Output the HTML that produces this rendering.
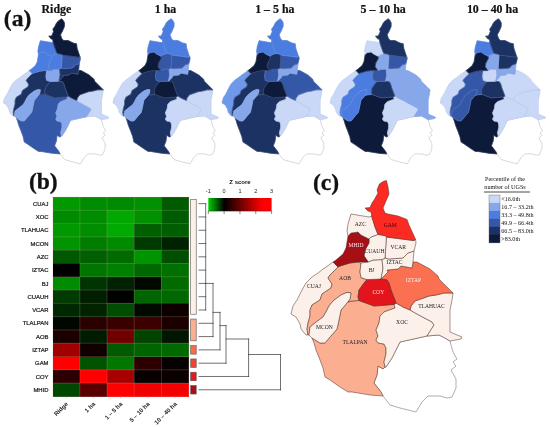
<!DOCTYPE html>
<html><head><meta charset="utf-8"><title>Figure</title>
<style>
html,body{margin:0;padding:0;background:#fff;}
body{width:550px;height:427px;overflow:hidden;position:relative;}
svg{position:absolute;left:0;top:0;display:block;}
.ser{font-family:"Liberation Serif",serif;}
.san{font-family:"Liberation Sans",sans-serif;}
</style></head><body>
<svg width="550" height="427" viewBox="0 0 550 427">
<rect width="550" height="427" fill="#fff"/>

<g transform="translate(-176.20,-92.40) scale(0.617,0.622)" stroke-linejoin="miter" stroke-miterlimit="3">
<polygon points="427.0,336.0 439.0,335.0 443.0,337.0 450.0,341.0 451.0,345.0 453.0,352.0 457.0,359.0 453.0,362.0 456.0,366.0 451.0,370.0 456.0,379.0 456.0,388.0 452.0,397.0 447.0,398.0 440.0,396.0 428.0,396.0 422.0,402.0 416.0,412.0 400.0,408.0 390.0,405.0 383.0,396.0 381.0,392.0 374.0,383.0 377.0,375.0 378.0,366.0 383.0,369.0 385.0,367.0 386.0,367.0 392.0,358.0 397.0,348.0 400.0,342.0" fill="#fff" stroke="#c4c6cf" stroke-width="1.1"/>
<polygon points="348.0,302.0 352.0,301.0 359.0,300.5 374.0,306.0 380.0,305.6 394.0,304.4 395.0,308.0 384.0,312.0 380.0,316.0 379.0,323.0 376.0,330.0 378.0,336.0 376.0,340.0 378.0,343.0 384.0,344.0 386.0,348.0 386.0,354.0 384.0,362.0 385.0,367.0 383.0,369.0 378.0,366.0 377.0,375.0 374.0,383.0 381.0,392.0 383.0,396.0 370.0,395.0 352.0,392.0 348.0,392.0 340.0,387.0 330.0,380.0 325.0,377.0 323.0,368.0 320.0,360.0 316.0,350.0 314.0,343.0 312.0,338.0 320.0,343.0 325.0,343.0 330.0,337.0 337.0,329.0 339.0,320.0 341.0,310.0 347.0,303.0" fill="#3557a8" stroke="#3557a8" stroke-width="1.2"/>
<polygon points="396.0,303.0 403.0,307.0 410.0,310.0 417.0,314.0 432.0,322.0 434.0,325.0 427.0,336.0 400.0,342.0 397.0,348.0 392.0,358.0 386.0,367.0 385.0,367.0 384.0,362.0 386.0,354.0 386.0,348.0 384.0,344.0 378.0,343.0 376.0,340.0 378.0,336.0 376.0,330.0 379.0,323.0 380.0,316.0 384.0,312.0 395.0,308.0 394.0,304.4" fill="#86a7ea" stroke="#86a7ea" stroke-width="1.2"/>
<polygon points="453.0,293.0 452.0,300.0 450.0,310.0 450.0,320.0 450.0,332.0 462.0,337.0 461.0,339.0 450.0,341.0 443.0,337.0 439.0,335.0 427.0,336.0 434.0,325.0 432.0,322.0 417.0,314.0 410.0,310.0 411.0,306.0 415.0,301.0 429.0,296.0 436.0,295.0 444.0,293.0" fill="#c9d8f6" stroke="#c9d8f6" stroke-width="1.2"/>
<polygon points="381.0,279.0 388.0,272.0 387.0,270.0 398.0,269.0 401.0,266.0 412.0,268.0 413.0,262.0 417.0,262.0 430.0,269.0 438.0,276.0 439.0,279.0 452.0,292.0 453.0,293.0 444.0,293.0 436.0,295.0 429.0,296.0 415.0,301.0 411.0,306.0 410.0,310.0 403.0,307.0 396.0,303.0 391.0,290.0 389.0,283.0 387.0,280.0" fill="#0d1a3a" stroke="#0d1a3a" stroke-width="1.2"/>
<polygon points="333.0,262.0 338.0,267.0 330.0,275.0 328.0,278.0 332.0,284.0 331.0,288.0 322.0,294.0 320.0,300.0 312.0,305.0 310.0,310.0 310.0,316.0 308.0,323.0 307.0,329.0 308.0,335.0 306.0,335.0 301.0,329.0 300.0,324.0 296.0,317.0 291.0,314.0 293.0,306.0 297.0,300.0 302.0,290.0 306.0,283.0 312.0,277.0 318.0,273.0 323.0,269.0 329.0,265.0" fill="#c9d8f6" stroke="#c9d8f6" stroke-width="1.2"/>
<polygon points="338.0,267.0 340.0,266.0 350.0,263.0 358.0,262.0 361.0,263.0 360.0,272.0 361.0,277.6 367.0,279.6 364.0,283.0 359.0,290.0 358.0,297.0 359.0,300.5 352.0,301.0 348.0,302.0 350.0,299.0 351.0,293.0 347.0,292.4 341.0,295.0 333.0,301.0 329.0,306.0 326.0,312.0 323.0,317.0 315.0,323.0 310.0,327.0 309.0,335.0 308.0,335.0 307.0,329.0 308.0,323.0 310.0,316.0 310.0,310.0 312.0,305.0 320.0,300.0 322.0,294.0 331.0,288.0 332.0,284.0 328.0,278.0 330.0,275.0" fill="#1b3263" stroke="#1b3263" stroke-width="1.2"/>
<polygon points="351.0,293.0 347.0,292.4 341.0,295.0 333.0,301.0 329.0,306.0 326.0,312.0 323.0,317.0 315.0,323.0 310.0,327.0 309.0,335.0 312.0,338.0 320.0,343.0 325.0,343.0 330.0,337.0 337.0,329.0 339.0,320.0 341.0,310.0 347.0,303.0 350.0,299.0" fill="#86a7ea" stroke="#86a7ea" stroke-width="1.2"/>
<polygon points="367.0,279.6 381.0,279.0 387.0,280.0 389.0,283.0 391.0,290.0 396.0,303.0 394.0,304.4 380.0,305.6 374.0,306.0 359.0,300.5 358.0,297.0 359.0,290.0 364.0,283.0" fill="#1b3263" stroke="#1b3263" stroke-width="1.2"/>
<polygon points="361.0,263.0 368.0,262.0 373.0,260.0 382.0,259.6 383.0,269.0 381.0,279.0 367.0,279.6 361.0,277.6 360.0,272.0" fill="#86a7ea" stroke="#86a7ea" stroke-width="1.2"/>
<polygon points="385.0,258.0 389.0,259.0 403.0,258.0 408.0,253.0 414.0,251.0 413.0,262.0 412.0,268.0 401.0,266.0 398.0,269.0 387.0,270.0 388.0,272.0 381.0,279.0 383.0,269.0 382.0,259.6" fill="#1b3263" stroke="#1b3263" stroke-width="1.2"/>
<polygon points="386.4,237.0 414.0,240.6 415.6,239.4 416.0,243.0 414.0,251.0 408.0,253.0 403.0,258.0 389.0,259.0 385.0,258.0" fill="#3557a8" stroke="#3557a8" stroke-width="1.2"/>
<polygon points="369.0,239.0 371.0,237.0 378.0,234.4 385.0,235.6 386.4,237.0 385.0,258.0 382.0,259.6 373.0,260.0 368.0,262.0 364.0,256.0 365.0,250.0 369.0,243.0" fill="#4b7de0" stroke="#4b7de0" stroke-width="1.2"/>
<polygon points="348.0,236.0 351.0,233.0 358.0,232.0 361.0,235.0 369.0,239.0 369.0,243.0 365.0,250.0 364.0,256.0 367.0,260.0 368.0,262.0 358.0,262.0 350.0,263.0 340.0,266.0 338.0,267.0 333.0,262.0 336.0,260.0 343.0,254.0 346.0,248.0 347.0,242.0" fill="#4b7de0" stroke="#4b7de0" stroke-width="1.2"/>
<polygon points="351.0,214.0 369.0,217.0 372.0,216.0 373.0,219.0 375.0,227.0 378.0,234.4 371.0,237.0 369.0,239.0 361.0,235.0 358.0,232.0 351.0,233.0 348.0,236.0 347.0,231.0 348.0,224.0" fill="#4b7de0" stroke="#4b7de0" stroke-width="1.2"/>
<polygon points="385.4,178.6 380.6,182.0 377.5,185.0 374.4,191.2 371.3,195.3 372.3,199.4 369.2,206.6 364.7,206.4 368.0,211.0 371.0,212.0 372.0,218.0 375.0,227.0 378.0,234.4 385.0,235.6 386.4,237.0 414.0,240.6 414.6,238.3 410.5,226.0 409.6,218.8 404.4,217.8 396.1,213.7 388.8,213.7 385.7,210.6 383.6,204.5 386.9,198.4 390.0,191.2 390.0,185.0 387.8,181.0" fill="#0d1a3a" stroke="#0d1a3a" stroke-width="1.2"/>
<polygon points="348.0,302.0 352.0,301.0 359.0,300.5 374.0,306.0 380.0,305.6 394.0,304.4 395.0,308.0 384.0,312.0 380.0,316.0 379.0,323.0 376.0,330.0 378.0,336.0 376.0,340.0 378.0,343.0 384.0,344.0 386.0,348.0 386.0,354.0 384.0,362.0 385.0,367.0 383.0,369.0 378.0,366.0 377.0,375.0 374.0,383.0 381.0,392.0 383.0,396.0 370.0,395.0 352.0,392.0 348.0,392.0 340.0,387.0 330.0,380.0 325.0,377.0 323.0,368.0 320.0,360.0 316.0,350.0 314.0,343.0 312.0,338.0 320.0,343.0 325.0,343.0 330.0,337.0 337.0,329.0 339.0,320.0 341.0,310.0 347.0,303.0" fill="none" stroke="#9aa8cc" stroke-opacity="0.32" stroke-width="0.7"/>
<polygon points="396.0,303.0 403.0,307.0 410.0,310.0 417.0,314.0 432.0,322.0 434.0,325.0 427.0,336.0 400.0,342.0 397.0,348.0 392.0,358.0 386.0,367.0 385.0,367.0 384.0,362.0 386.0,354.0 386.0,348.0 384.0,344.0 378.0,343.0 376.0,340.0 378.0,336.0 376.0,330.0 379.0,323.0 380.0,316.0 384.0,312.0 395.0,308.0 394.0,304.4" fill="none" stroke="#9aa8cc" stroke-opacity="0.32" stroke-width="0.7"/>
<polygon points="453.0,293.0 452.0,300.0 450.0,310.0 450.0,320.0 450.0,332.0 462.0,337.0 461.0,339.0 450.0,341.0 443.0,337.0 439.0,335.0 427.0,336.0 434.0,325.0 432.0,322.0 417.0,314.0 410.0,310.0 411.0,306.0 415.0,301.0 429.0,296.0 436.0,295.0 444.0,293.0" fill="none" stroke="#9aa8cc" stroke-opacity="0.32" stroke-width="0.7"/>
<polygon points="381.0,279.0 388.0,272.0 387.0,270.0 398.0,269.0 401.0,266.0 412.0,268.0 413.0,262.0 417.0,262.0 430.0,269.0 438.0,276.0 439.0,279.0 452.0,292.0 453.0,293.0 444.0,293.0 436.0,295.0 429.0,296.0 415.0,301.0 411.0,306.0 410.0,310.0 403.0,307.0 396.0,303.0 391.0,290.0 389.0,283.0 387.0,280.0" fill="none" stroke="#9aa8cc" stroke-opacity="0.32" stroke-width="0.7"/>
<polygon points="333.0,262.0 338.0,267.0 330.0,275.0 328.0,278.0 332.0,284.0 331.0,288.0 322.0,294.0 320.0,300.0 312.0,305.0 310.0,310.0 310.0,316.0 308.0,323.0 307.0,329.0 308.0,335.0 306.0,335.0 301.0,329.0 300.0,324.0 296.0,317.0 291.0,314.0 293.0,306.0 297.0,300.0 302.0,290.0 306.0,283.0 312.0,277.0 318.0,273.0 323.0,269.0 329.0,265.0" fill="none" stroke="#9aa8cc" stroke-opacity="0.32" stroke-width="0.7"/>
<polygon points="338.0,267.0 340.0,266.0 350.0,263.0 358.0,262.0 361.0,263.0 360.0,272.0 361.0,277.6 367.0,279.6 364.0,283.0 359.0,290.0 358.0,297.0 359.0,300.5 352.0,301.0 348.0,302.0 350.0,299.0 351.0,293.0 347.0,292.4 341.0,295.0 333.0,301.0 329.0,306.0 326.0,312.0 323.0,317.0 315.0,323.0 310.0,327.0 309.0,335.0 308.0,335.0 307.0,329.0 308.0,323.0 310.0,316.0 310.0,310.0 312.0,305.0 320.0,300.0 322.0,294.0 331.0,288.0 332.0,284.0 328.0,278.0 330.0,275.0" fill="none" stroke="#9aa8cc" stroke-opacity="0.32" stroke-width="0.7"/>
<polygon points="351.0,293.0 347.0,292.4 341.0,295.0 333.0,301.0 329.0,306.0 326.0,312.0 323.0,317.0 315.0,323.0 310.0,327.0 309.0,335.0 312.0,338.0 320.0,343.0 325.0,343.0 330.0,337.0 337.0,329.0 339.0,320.0 341.0,310.0 347.0,303.0 350.0,299.0" fill="none" stroke="#9aa8cc" stroke-opacity="0.32" stroke-width="0.7"/>
<polygon points="367.0,279.6 381.0,279.0 387.0,280.0 389.0,283.0 391.0,290.0 396.0,303.0 394.0,304.4 380.0,305.6 374.0,306.0 359.0,300.5 358.0,297.0 359.0,290.0 364.0,283.0" fill="none" stroke="#9aa8cc" stroke-opacity="0.32" stroke-width="0.7"/>
<polygon points="361.0,263.0 368.0,262.0 373.0,260.0 382.0,259.6 383.0,269.0 381.0,279.0 367.0,279.6 361.0,277.6 360.0,272.0" fill="none" stroke="#9aa8cc" stroke-opacity="0.32" stroke-width="0.7"/>
<polygon points="385.0,258.0 389.0,259.0 403.0,258.0 408.0,253.0 414.0,251.0 413.0,262.0 412.0,268.0 401.0,266.0 398.0,269.0 387.0,270.0 388.0,272.0 381.0,279.0 383.0,269.0 382.0,259.6" fill="none" stroke="#9aa8cc" stroke-opacity="0.32" stroke-width="0.7"/>
<polygon points="386.4,237.0 414.0,240.6 415.6,239.4 416.0,243.0 414.0,251.0 408.0,253.0 403.0,258.0 389.0,259.0 385.0,258.0" fill="none" stroke="#9aa8cc" stroke-opacity="0.32" stroke-width="0.7"/>
<polygon points="369.0,239.0 371.0,237.0 378.0,234.4 385.0,235.6 386.4,237.0 385.0,258.0 382.0,259.6 373.0,260.0 368.0,262.0 364.0,256.0 365.0,250.0 369.0,243.0" fill="none" stroke="#9aa8cc" stroke-opacity="0.32" stroke-width="0.7"/>
<polygon points="348.0,236.0 351.0,233.0 358.0,232.0 361.0,235.0 369.0,239.0 369.0,243.0 365.0,250.0 364.0,256.0 367.0,260.0 368.0,262.0 358.0,262.0 350.0,263.0 340.0,266.0 338.0,267.0 333.0,262.0 336.0,260.0 343.0,254.0 346.0,248.0 347.0,242.0" fill="none" stroke="#9aa8cc" stroke-opacity="0.32" stroke-width="0.7"/>
<polygon points="351.0,214.0 369.0,217.0 372.0,216.0 373.0,219.0 375.0,227.0 378.0,234.4 371.0,237.0 369.0,239.0 361.0,235.0 358.0,232.0 351.0,233.0 348.0,236.0 347.0,231.0 348.0,224.0" fill="none" stroke="#9aa8cc" stroke-opacity="0.32" stroke-width="0.7"/>
<polygon points="385.4,178.6 380.6,182.0 377.5,185.0 374.4,191.2 371.3,195.3 372.3,199.4 369.2,206.6 364.7,206.4 368.0,211.0 371.0,212.0 372.0,218.0 375.0,227.0 378.0,234.4 385.0,235.6 386.4,237.0 414.0,240.6 414.6,238.3 410.5,226.0 409.6,218.8 404.4,217.8 396.1,213.7 388.8,213.7 385.7,210.6 383.6,204.5 386.9,198.4 390.0,191.2 390.0,185.0 387.8,181.0" fill="none" stroke="#9aa8cc" stroke-opacity="0.32" stroke-width="0.7"/>
</g>
<text class="ser" x="56.4" y="12.5" font-size="11.9" font-weight="bold" text-anchor="middle" fill="#111" stroke="#111" stroke-width="0.2">Ridge</text>
<g transform="translate(-66.60,-92.40) scale(0.617,0.622)" stroke-linejoin="miter" stroke-miterlimit="3">
<polygon points="427.0,336.0 439.0,335.0 443.0,337.0 450.0,341.0 451.0,345.0 453.0,352.0 457.0,359.0 453.0,362.0 456.0,366.0 451.0,370.0 456.0,379.0 456.0,388.0 452.0,397.0 447.0,398.0 440.0,396.0 428.0,396.0 422.0,402.0 416.0,412.0 400.0,408.0 390.0,405.0 383.0,396.0 381.0,392.0 374.0,383.0 377.0,375.0 378.0,366.0 383.0,369.0 385.0,367.0 386.0,367.0 392.0,358.0 397.0,348.0 400.0,342.0" fill="#fff" stroke="#c4c6cf" stroke-width="1.1"/>
<polygon points="348.0,302.0 352.0,301.0 359.0,300.5 374.0,306.0 380.0,305.6 394.0,304.4 395.0,308.0 384.0,312.0 380.0,316.0 379.0,323.0 376.0,330.0 378.0,336.0 376.0,340.0 378.0,343.0 384.0,344.0 386.0,348.0 386.0,354.0 384.0,362.0 385.0,367.0 383.0,369.0 378.0,366.0 377.0,375.0 374.0,383.0 381.0,392.0 383.0,396.0 370.0,395.0 352.0,392.0 348.0,392.0 340.0,387.0 330.0,380.0 325.0,377.0 323.0,368.0 320.0,360.0 316.0,350.0 314.0,343.0 312.0,338.0 320.0,343.0 325.0,343.0 330.0,337.0 337.0,329.0 339.0,320.0 341.0,310.0 347.0,303.0" fill="#1b3263" stroke="#1b3263" stroke-width="1.2"/>
<polygon points="396.0,303.0 403.0,307.0 410.0,310.0 417.0,314.0 432.0,322.0 434.0,325.0 427.0,336.0 400.0,342.0 397.0,348.0 392.0,358.0 386.0,367.0 385.0,367.0 384.0,362.0 386.0,354.0 386.0,348.0 384.0,344.0 378.0,343.0 376.0,340.0 378.0,336.0 376.0,330.0 379.0,323.0 380.0,316.0 384.0,312.0 395.0,308.0 394.0,304.4" fill="#c9d8f6" stroke="#c9d8f6" stroke-width="1.2"/>
<polygon points="453.0,293.0 452.0,300.0 450.0,310.0 450.0,320.0 450.0,332.0 462.0,337.0 461.0,339.0 450.0,341.0 443.0,337.0 439.0,335.0 427.0,336.0 434.0,325.0 432.0,322.0 417.0,314.0 410.0,310.0 411.0,306.0 415.0,301.0 429.0,296.0 436.0,295.0 444.0,293.0" fill="#c9d8f6" stroke="#c9d8f6" stroke-width="1.2"/>
<polygon points="381.0,279.0 388.0,272.0 387.0,270.0 398.0,269.0 401.0,266.0 412.0,268.0 413.0,262.0 417.0,262.0 430.0,269.0 438.0,276.0 439.0,279.0 452.0,292.0 453.0,293.0 444.0,293.0 436.0,295.0 429.0,296.0 415.0,301.0 411.0,306.0 410.0,310.0 403.0,307.0 396.0,303.0 391.0,290.0 389.0,283.0 387.0,280.0" fill="#1b3263" stroke="#1b3263" stroke-width="1.2"/>
<polygon points="333.0,262.0 338.0,267.0 330.0,275.0 328.0,278.0 332.0,284.0 331.0,288.0 322.0,294.0 320.0,300.0 312.0,305.0 310.0,310.0 310.0,316.0 308.0,323.0 307.0,329.0 308.0,335.0 306.0,335.0 301.0,329.0 300.0,324.0 296.0,317.0 291.0,314.0 293.0,306.0 297.0,300.0 302.0,290.0 306.0,283.0 312.0,277.0 318.0,273.0 323.0,269.0 329.0,265.0" fill="#c9d8f6" stroke="#c9d8f6" stroke-width="1.2"/>
<polygon points="338.0,267.0 340.0,266.0 350.0,263.0 358.0,262.0 361.0,263.0 360.0,272.0 361.0,277.6 367.0,279.6 364.0,283.0 359.0,290.0 358.0,297.0 359.0,300.5 352.0,301.0 348.0,302.0 350.0,299.0 351.0,293.0 347.0,292.4 341.0,295.0 333.0,301.0 329.0,306.0 326.0,312.0 323.0,317.0 315.0,323.0 310.0,327.0 309.0,335.0 308.0,335.0 307.0,329.0 308.0,323.0 310.0,316.0 310.0,310.0 312.0,305.0 320.0,300.0 322.0,294.0 331.0,288.0 332.0,284.0 328.0,278.0 330.0,275.0" fill="#1b3263" stroke="#1b3263" stroke-width="1.2"/>
<polygon points="351.0,293.0 347.0,292.4 341.0,295.0 333.0,301.0 329.0,306.0 326.0,312.0 323.0,317.0 315.0,323.0 310.0,327.0 309.0,335.0 312.0,338.0 320.0,343.0 325.0,343.0 330.0,337.0 337.0,329.0 339.0,320.0 341.0,310.0 347.0,303.0 350.0,299.0" fill="#86a7ea" stroke="#86a7ea" stroke-width="1.2"/>
<polygon points="367.0,279.6 381.0,279.0 387.0,280.0 389.0,283.0 391.0,290.0 396.0,303.0 394.0,304.4 380.0,305.6 374.0,306.0 359.0,300.5 358.0,297.0 359.0,290.0 364.0,283.0" fill="#0d1a3a" stroke="#0d1a3a" stroke-width="1.2"/>
<polygon points="361.0,263.0 368.0,262.0 373.0,260.0 382.0,259.6 383.0,269.0 381.0,279.0 367.0,279.6 361.0,277.6 360.0,272.0" fill="#3557a8" stroke="#3557a8" stroke-width="1.2"/>
<polygon points="385.0,258.0 389.0,259.0 403.0,258.0 408.0,253.0 414.0,251.0 413.0,262.0 412.0,268.0 401.0,266.0 398.0,269.0 387.0,270.0 388.0,272.0 381.0,279.0 383.0,269.0 382.0,259.6" fill="#86a7ea" stroke="#86a7ea" stroke-width="1.2"/>
<polygon points="386.4,237.0 414.0,240.6 415.6,239.4 416.0,243.0 414.0,251.0 408.0,253.0 403.0,258.0 389.0,259.0 385.0,258.0" fill="#3557a8" stroke="#3557a8" stroke-width="1.2"/>
<polygon points="369.0,239.0 371.0,237.0 378.0,234.4 385.0,235.6 386.4,237.0 385.0,258.0 382.0,259.6 373.0,260.0 368.0,262.0 364.0,256.0 365.0,250.0 369.0,243.0" fill="#3557a8" stroke="#3557a8" stroke-width="1.2"/>
<polygon points="348.0,236.0 351.0,233.0 358.0,232.0 361.0,235.0 369.0,239.0 369.0,243.0 365.0,250.0 364.0,256.0 367.0,260.0 368.0,262.0 358.0,262.0 350.0,263.0 340.0,266.0 338.0,267.0 333.0,262.0 336.0,260.0 343.0,254.0 346.0,248.0 347.0,242.0" fill="#0d1a3a" stroke="#0d1a3a" stroke-width="1.2"/>
<polygon points="351.0,214.0 369.0,217.0 372.0,216.0 373.0,219.0 375.0,227.0 378.0,234.4 371.0,237.0 369.0,239.0 361.0,235.0 358.0,232.0 351.0,233.0 348.0,236.0 347.0,231.0 348.0,224.0" fill="#4b7de0" stroke="#4b7de0" stroke-width="1.2"/>
<polygon points="385.4,178.6 380.6,182.0 377.5,185.0 374.4,191.2 371.3,195.3 372.3,199.4 369.2,206.6 364.7,206.4 368.0,211.0 371.0,212.0 372.0,218.0 375.0,227.0 378.0,234.4 385.0,235.6 386.4,237.0 414.0,240.6 414.6,238.3 410.5,226.0 409.6,218.8 404.4,217.8 396.1,213.7 388.8,213.7 385.7,210.6 383.6,204.5 386.9,198.4 390.0,191.2 390.0,185.0 387.8,181.0" fill="#4b7de0" stroke="#4b7de0" stroke-width="1.2"/>
<polygon points="348.0,302.0 352.0,301.0 359.0,300.5 374.0,306.0 380.0,305.6 394.0,304.4 395.0,308.0 384.0,312.0 380.0,316.0 379.0,323.0 376.0,330.0 378.0,336.0 376.0,340.0 378.0,343.0 384.0,344.0 386.0,348.0 386.0,354.0 384.0,362.0 385.0,367.0 383.0,369.0 378.0,366.0 377.0,375.0 374.0,383.0 381.0,392.0 383.0,396.0 370.0,395.0 352.0,392.0 348.0,392.0 340.0,387.0 330.0,380.0 325.0,377.0 323.0,368.0 320.0,360.0 316.0,350.0 314.0,343.0 312.0,338.0 320.0,343.0 325.0,343.0 330.0,337.0 337.0,329.0 339.0,320.0 341.0,310.0 347.0,303.0" fill="none" stroke="#9aa8cc" stroke-opacity="0.32" stroke-width="0.7"/>
<polygon points="396.0,303.0 403.0,307.0 410.0,310.0 417.0,314.0 432.0,322.0 434.0,325.0 427.0,336.0 400.0,342.0 397.0,348.0 392.0,358.0 386.0,367.0 385.0,367.0 384.0,362.0 386.0,354.0 386.0,348.0 384.0,344.0 378.0,343.0 376.0,340.0 378.0,336.0 376.0,330.0 379.0,323.0 380.0,316.0 384.0,312.0 395.0,308.0 394.0,304.4" fill="none" stroke="#9aa8cc" stroke-opacity="0.32" stroke-width="0.7"/>
<polygon points="453.0,293.0 452.0,300.0 450.0,310.0 450.0,320.0 450.0,332.0 462.0,337.0 461.0,339.0 450.0,341.0 443.0,337.0 439.0,335.0 427.0,336.0 434.0,325.0 432.0,322.0 417.0,314.0 410.0,310.0 411.0,306.0 415.0,301.0 429.0,296.0 436.0,295.0 444.0,293.0" fill="none" stroke="#9aa8cc" stroke-opacity="0.32" stroke-width="0.7"/>
<polygon points="381.0,279.0 388.0,272.0 387.0,270.0 398.0,269.0 401.0,266.0 412.0,268.0 413.0,262.0 417.0,262.0 430.0,269.0 438.0,276.0 439.0,279.0 452.0,292.0 453.0,293.0 444.0,293.0 436.0,295.0 429.0,296.0 415.0,301.0 411.0,306.0 410.0,310.0 403.0,307.0 396.0,303.0 391.0,290.0 389.0,283.0 387.0,280.0" fill="none" stroke="#9aa8cc" stroke-opacity="0.32" stroke-width="0.7"/>
<polygon points="333.0,262.0 338.0,267.0 330.0,275.0 328.0,278.0 332.0,284.0 331.0,288.0 322.0,294.0 320.0,300.0 312.0,305.0 310.0,310.0 310.0,316.0 308.0,323.0 307.0,329.0 308.0,335.0 306.0,335.0 301.0,329.0 300.0,324.0 296.0,317.0 291.0,314.0 293.0,306.0 297.0,300.0 302.0,290.0 306.0,283.0 312.0,277.0 318.0,273.0 323.0,269.0 329.0,265.0" fill="none" stroke="#9aa8cc" stroke-opacity="0.32" stroke-width="0.7"/>
<polygon points="338.0,267.0 340.0,266.0 350.0,263.0 358.0,262.0 361.0,263.0 360.0,272.0 361.0,277.6 367.0,279.6 364.0,283.0 359.0,290.0 358.0,297.0 359.0,300.5 352.0,301.0 348.0,302.0 350.0,299.0 351.0,293.0 347.0,292.4 341.0,295.0 333.0,301.0 329.0,306.0 326.0,312.0 323.0,317.0 315.0,323.0 310.0,327.0 309.0,335.0 308.0,335.0 307.0,329.0 308.0,323.0 310.0,316.0 310.0,310.0 312.0,305.0 320.0,300.0 322.0,294.0 331.0,288.0 332.0,284.0 328.0,278.0 330.0,275.0" fill="none" stroke="#9aa8cc" stroke-opacity="0.32" stroke-width="0.7"/>
<polygon points="351.0,293.0 347.0,292.4 341.0,295.0 333.0,301.0 329.0,306.0 326.0,312.0 323.0,317.0 315.0,323.0 310.0,327.0 309.0,335.0 312.0,338.0 320.0,343.0 325.0,343.0 330.0,337.0 337.0,329.0 339.0,320.0 341.0,310.0 347.0,303.0 350.0,299.0" fill="none" stroke="#9aa8cc" stroke-opacity="0.32" stroke-width="0.7"/>
<polygon points="367.0,279.6 381.0,279.0 387.0,280.0 389.0,283.0 391.0,290.0 396.0,303.0 394.0,304.4 380.0,305.6 374.0,306.0 359.0,300.5 358.0,297.0 359.0,290.0 364.0,283.0" fill="none" stroke="#9aa8cc" stroke-opacity="0.32" stroke-width="0.7"/>
<polygon points="361.0,263.0 368.0,262.0 373.0,260.0 382.0,259.6 383.0,269.0 381.0,279.0 367.0,279.6 361.0,277.6 360.0,272.0" fill="none" stroke="#9aa8cc" stroke-opacity="0.32" stroke-width="0.7"/>
<polygon points="385.0,258.0 389.0,259.0 403.0,258.0 408.0,253.0 414.0,251.0 413.0,262.0 412.0,268.0 401.0,266.0 398.0,269.0 387.0,270.0 388.0,272.0 381.0,279.0 383.0,269.0 382.0,259.6" fill="none" stroke="#9aa8cc" stroke-opacity="0.32" stroke-width="0.7"/>
<polygon points="386.4,237.0 414.0,240.6 415.6,239.4 416.0,243.0 414.0,251.0 408.0,253.0 403.0,258.0 389.0,259.0 385.0,258.0" fill="none" stroke="#9aa8cc" stroke-opacity="0.32" stroke-width="0.7"/>
<polygon points="369.0,239.0 371.0,237.0 378.0,234.4 385.0,235.6 386.4,237.0 385.0,258.0 382.0,259.6 373.0,260.0 368.0,262.0 364.0,256.0 365.0,250.0 369.0,243.0" fill="none" stroke="#9aa8cc" stroke-opacity="0.32" stroke-width="0.7"/>
<polygon points="348.0,236.0 351.0,233.0 358.0,232.0 361.0,235.0 369.0,239.0 369.0,243.0 365.0,250.0 364.0,256.0 367.0,260.0 368.0,262.0 358.0,262.0 350.0,263.0 340.0,266.0 338.0,267.0 333.0,262.0 336.0,260.0 343.0,254.0 346.0,248.0 347.0,242.0" fill="none" stroke="#9aa8cc" stroke-opacity="0.32" stroke-width="0.7"/>
<polygon points="351.0,214.0 369.0,217.0 372.0,216.0 373.0,219.0 375.0,227.0 378.0,234.4 371.0,237.0 369.0,239.0 361.0,235.0 358.0,232.0 351.0,233.0 348.0,236.0 347.0,231.0 348.0,224.0" fill="none" stroke="#9aa8cc" stroke-opacity="0.32" stroke-width="0.7"/>
<polygon points="385.4,178.6 380.6,182.0 377.5,185.0 374.4,191.2 371.3,195.3 372.3,199.4 369.2,206.6 364.7,206.4 368.0,211.0 371.0,212.0 372.0,218.0 375.0,227.0 378.0,234.4 385.0,235.6 386.4,237.0 414.0,240.6 414.6,238.3 410.5,226.0 409.6,218.8 404.4,217.8 396.1,213.7 388.8,213.7 385.7,210.6 383.6,204.5 386.9,198.4 390.0,191.2 390.0,185.0 387.8,181.0" fill="none" stroke="#9aa8cc" stroke-opacity="0.32" stroke-width="0.7"/>
</g>
<text class="ser" x="165.6" y="12.5" font-size="11.9" font-weight="bold" text-anchor="middle" fill="#111" stroke="#111" stroke-width="0.2">1 ha</text>
<g transform="translate(42.50,-92.40) scale(0.617,0.622)" stroke-linejoin="miter" stroke-miterlimit="3">
<polygon points="427.0,336.0 439.0,335.0 443.0,337.0 450.0,341.0 451.0,345.0 453.0,352.0 457.0,359.0 453.0,362.0 456.0,366.0 451.0,370.0 456.0,379.0 456.0,388.0 452.0,397.0 447.0,398.0 440.0,396.0 428.0,396.0 422.0,402.0 416.0,412.0 400.0,408.0 390.0,405.0 383.0,396.0 381.0,392.0 374.0,383.0 377.0,375.0 378.0,366.0 383.0,369.0 385.0,367.0 386.0,367.0 392.0,358.0 397.0,348.0 400.0,342.0" fill="#fff" stroke="#c4c6cf" stroke-width="1.1"/>
<polygon points="348.0,302.0 352.0,301.0 359.0,300.5 374.0,306.0 380.0,305.6 394.0,304.4 395.0,308.0 384.0,312.0 380.0,316.0 379.0,323.0 376.0,330.0 378.0,336.0 376.0,340.0 378.0,343.0 384.0,344.0 386.0,348.0 386.0,354.0 384.0,362.0 385.0,367.0 383.0,369.0 378.0,366.0 377.0,375.0 374.0,383.0 381.0,392.0 383.0,396.0 370.0,395.0 352.0,392.0 348.0,392.0 340.0,387.0 330.0,380.0 325.0,377.0 323.0,368.0 320.0,360.0 316.0,350.0 314.0,343.0 312.0,338.0 320.0,343.0 325.0,343.0 330.0,337.0 337.0,329.0 339.0,320.0 341.0,310.0 347.0,303.0" fill="#1b3263" stroke="#1b3263" stroke-width="1.2"/>
<polygon points="396.0,303.0 403.0,307.0 410.0,310.0 417.0,314.0 432.0,322.0 434.0,325.0 427.0,336.0 400.0,342.0 397.0,348.0 392.0,358.0 386.0,367.0 385.0,367.0 384.0,362.0 386.0,354.0 386.0,348.0 384.0,344.0 378.0,343.0 376.0,340.0 378.0,336.0 376.0,330.0 379.0,323.0 380.0,316.0 384.0,312.0 395.0,308.0 394.0,304.4" fill="#c9d8f6" stroke="#c9d8f6" stroke-width="1.2"/>
<polygon points="453.0,293.0 452.0,300.0 450.0,310.0 450.0,320.0 450.0,332.0 462.0,337.0 461.0,339.0 450.0,341.0 443.0,337.0 439.0,335.0 427.0,336.0 434.0,325.0 432.0,322.0 417.0,314.0 410.0,310.0 411.0,306.0 415.0,301.0 429.0,296.0 436.0,295.0 444.0,293.0" fill="#c9d8f6" stroke="#c9d8f6" stroke-width="1.2"/>
<polygon points="381.0,279.0 388.0,272.0 387.0,270.0 398.0,269.0 401.0,266.0 412.0,268.0 413.0,262.0 417.0,262.0 430.0,269.0 438.0,276.0 439.0,279.0 452.0,292.0 453.0,293.0 444.0,293.0 436.0,295.0 429.0,296.0 415.0,301.0 411.0,306.0 410.0,310.0 403.0,307.0 396.0,303.0 391.0,290.0 389.0,283.0 387.0,280.0" fill="#3557a8" stroke="#3557a8" stroke-width="1.2"/>
<polygon points="333.0,262.0 338.0,267.0 330.0,275.0 328.0,278.0 332.0,284.0 331.0,288.0 322.0,294.0 320.0,300.0 312.0,305.0 310.0,310.0 310.0,316.0 308.0,323.0 307.0,329.0 308.0,335.0 306.0,335.0 301.0,329.0 300.0,324.0 296.0,317.0 291.0,314.0 293.0,306.0 297.0,300.0 302.0,290.0 306.0,283.0 312.0,277.0 318.0,273.0 323.0,269.0 329.0,265.0" fill="#6e98ea" stroke="#6e98ea" stroke-width="1.2"/>
<polygon points="338.0,267.0 340.0,266.0 350.0,263.0 358.0,262.0 361.0,263.0 360.0,272.0 361.0,277.6 367.0,279.6 364.0,283.0 359.0,290.0 358.0,297.0 359.0,300.5 352.0,301.0 348.0,302.0 350.0,299.0 351.0,293.0 347.0,292.4 341.0,295.0 333.0,301.0 329.0,306.0 326.0,312.0 323.0,317.0 315.0,323.0 310.0,327.0 309.0,335.0 308.0,335.0 307.0,329.0 308.0,323.0 310.0,316.0 310.0,310.0 312.0,305.0 320.0,300.0 322.0,294.0 331.0,288.0 332.0,284.0 328.0,278.0 330.0,275.0" fill="#1b3263" stroke="#1b3263" stroke-width="1.2"/>
<polygon points="351.0,293.0 347.0,292.4 341.0,295.0 333.0,301.0 329.0,306.0 326.0,312.0 323.0,317.0 315.0,323.0 310.0,327.0 309.0,335.0 312.0,338.0 320.0,343.0 325.0,343.0 330.0,337.0 337.0,329.0 339.0,320.0 341.0,310.0 347.0,303.0 350.0,299.0" fill="#86a7ea" stroke="#86a7ea" stroke-width="1.2"/>
<polygon points="367.0,279.6 381.0,279.0 387.0,280.0 389.0,283.0 391.0,290.0 396.0,303.0 394.0,304.4 380.0,305.6 374.0,306.0 359.0,300.5 358.0,297.0 359.0,290.0 364.0,283.0" fill="#0d1a3a" stroke="#0d1a3a" stroke-width="1.2"/>
<polygon points="361.0,263.0 368.0,262.0 373.0,260.0 382.0,259.6 383.0,269.0 381.0,279.0 367.0,279.6 361.0,277.6 360.0,272.0" fill="#3557a8" stroke="#3557a8" stroke-width="1.2"/>
<polygon points="385.0,258.0 389.0,259.0 403.0,258.0 408.0,253.0 414.0,251.0 413.0,262.0 412.0,268.0 401.0,266.0 398.0,269.0 387.0,270.0 388.0,272.0 381.0,279.0 383.0,269.0 382.0,259.6" fill="#86a7ea" stroke="#86a7ea" stroke-width="1.2"/>
<polygon points="386.4,237.0 414.0,240.6 415.6,239.4 416.0,243.0 414.0,251.0 408.0,253.0 403.0,258.0 389.0,259.0 385.0,258.0" fill="#3557a8" stroke="#3557a8" stroke-width="1.2"/>
<polygon points="369.0,239.0 371.0,237.0 378.0,234.4 385.0,235.6 386.4,237.0 385.0,258.0 382.0,259.6 373.0,260.0 368.0,262.0 364.0,256.0 365.0,250.0 369.0,243.0" fill="#1b3263" stroke="#1b3263" stroke-width="1.2"/>
<polygon points="348.0,236.0 351.0,233.0 358.0,232.0 361.0,235.0 369.0,239.0 369.0,243.0 365.0,250.0 364.0,256.0 367.0,260.0 368.0,262.0 358.0,262.0 350.0,263.0 340.0,266.0 338.0,267.0 333.0,262.0 336.0,260.0 343.0,254.0 346.0,248.0 347.0,242.0" fill="#0d1a3a" stroke="#0d1a3a" stroke-width="1.2"/>
<polygon points="351.0,214.0 369.0,217.0 372.0,216.0 373.0,219.0 375.0,227.0 378.0,234.4 371.0,237.0 369.0,239.0 361.0,235.0 358.0,232.0 351.0,233.0 348.0,236.0 347.0,231.0 348.0,224.0" fill="#4b7de0" stroke="#4b7de0" stroke-width="1.2"/>
<polygon points="385.4,178.6 380.6,182.0 377.5,185.0 374.4,191.2 371.3,195.3 372.3,199.4 369.2,206.6 364.7,206.4 368.0,211.0 371.0,212.0 372.0,218.0 375.0,227.0 378.0,234.4 385.0,235.6 386.4,237.0 414.0,240.6 414.6,238.3 410.5,226.0 409.6,218.8 404.4,217.8 396.1,213.7 388.8,213.7 385.7,210.6 383.6,204.5 386.9,198.4 390.0,191.2 390.0,185.0 387.8,181.0" fill="#4b7de0" stroke="#4b7de0" stroke-width="1.2"/>
<polygon points="348.0,302.0 352.0,301.0 359.0,300.5 374.0,306.0 380.0,305.6 394.0,304.4 395.0,308.0 384.0,312.0 380.0,316.0 379.0,323.0 376.0,330.0 378.0,336.0 376.0,340.0 378.0,343.0 384.0,344.0 386.0,348.0 386.0,354.0 384.0,362.0 385.0,367.0 383.0,369.0 378.0,366.0 377.0,375.0 374.0,383.0 381.0,392.0 383.0,396.0 370.0,395.0 352.0,392.0 348.0,392.0 340.0,387.0 330.0,380.0 325.0,377.0 323.0,368.0 320.0,360.0 316.0,350.0 314.0,343.0 312.0,338.0 320.0,343.0 325.0,343.0 330.0,337.0 337.0,329.0 339.0,320.0 341.0,310.0 347.0,303.0" fill="none" stroke="#9aa8cc" stroke-opacity="0.32" stroke-width="0.7"/>
<polygon points="396.0,303.0 403.0,307.0 410.0,310.0 417.0,314.0 432.0,322.0 434.0,325.0 427.0,336.0 400.0,342.0 397.0,348.0 392.0,358.0 386.0,367.0 385.0,367.0 384.0,362.0 386.0,354.0 386.0,348.0 384.0,344.0 378.0,343.0 376.0,340.0 378.0,336.0 376.0,330.0 379.0,323.0 380.0,316.0 384.0,312.0 395.0,308.0 394.0,304.4" fill="none" stroke="#9aa8cc" stroke-opacity="0.32" stroke-width="0.7"/>
<polygon points="453.0,293.0 452.0,300.0 450.0,310.0 450.0,320.0 450.0,332.0 462.0,337.0 461.0,339.0 450.0,341.0 443.0,337.0 439.0,335.0 427.0,336.0 434.0,325.0 432.0,322.0 417.0,314.0 410.0,310.0 411.0,306.0 415.0,301.0 429.0,296.0 436.0,295.0 444.0,293.0" fill="none" stroke="#9aa8cc" stroke-opacity="0.32" stroke-width="0.7"/>
<polygon points="381.0,279.0 388.0,272.0 387.0,270.0 398.0,269.0 401.0,266.0 412.0,268.0 413.0,262.0 417.0,262.0 430.0,269.0 438.0,276.0 439.0,279.0 452.0,292.0 453.0,293.0 444.0,293.0 436.0,295.0 429.0,296.0 415.0,301.0 411.0,306.0 410.0,310.0 403.0,307.0 396.0,303.0 391.0,290.0 389.0,283.0 387.0,280.0" fill="none" stroke="#9aa8cc" stroke-opacity="0.32" stroke-width="0.7"/>
<polygon points="333.0,262.0 338.0,267.0 330.0,275.0 328.0,278.0 332.0,284.0 331.0,288.0 322.0,294.0 320.0,300.0 312.0,305.0 310.0,310.0 310.0,316.0 308.0,323.0 307.0,329.0 308.0,335.0 306.0,335.0 301.0,329.0 300.0,324.0 296.0,317.0 291.0,314.0 293.0,306.0 297.0,300.0 302.0,290.0 306.0,283.0 312.0,277.0 318.0,273.0 323.0,269.0 329.0,265.0" fill="none" stroke="#9aa8cc" stroke-opacity="0.32" stroke-width="0.7"/>
<polygon points="338.0,267.0 340.0,266.0 350.0,263.0 358.0,262.0 361.0,263.0 360.0,272.0 361.0,277.6 367.0,279.6 364.0,283.0 359.0,290.0 358.0,297.0 359.0,300.5 352.0,301.0 348.0,302.0 350.0,299.0 351.0,293.0 347.0,292.4 341.0,295.0 333.0,301.0 329.0,306.0 326.0,312.0 323.0,317.0 315.0,323.0 310.0,327.0 309.0,335.0 308.0,335.0 307.0,329.0 308.0,323.0 310.0,316.0 310.0,310.0 312.0,305.0 320.0,300.0 322.0,294.0 331.0,288.0 332.0,284.0 328.0,278.0 330.0,275.0" fill="none" stroke="#9aa8cc" stroke-opacity="0.32" stroke-width="0.7"/>
<polygon points="351.0,293.0 347.0,292.4 341.0,295.0 333.0,301.0 329.0,306.0 326.0,312.0 323.0,317.0 315.0,323.0 310.0,327.0 309.0,335.0 312.0,338.0 320.0,343.0 325.0,343.0 330.0,337.0 337.0,329.0 339.0,320.0 341.0,310.0 347.0,303.0 350.0,299.0" fill="none" stroke="#9aa8cc" stroke-opacity="0.32" stroke-width="0.7"/>
<polygon points="367.0,279.6 381.0,279.0 387.0,280.0 389.0,283.0 391.0,290.0 396.0,303.0 394.0,304.4 380.0,305.6 374.0,306.0 359.0,300.5 358.0,297.0 359.0,290.0 364.0,283.0" fill="none" stroke="#9aa8cc" stroke-opacity="0.32" stroke-width="0.7"/>
<polygon points="361.0,263.0 368.0,262.0 373.0,260.0 382.0,259.6 383.0,269.0 381.0,279.0 367.0,279.6 361.0,277.6 360.0,272.0" fill="none" stroke="#9aa8cc" stroke-opacity="0.32" stroke-width="0.7"/>
<polygon points="385.0,258.0 389.0,259.0 403.0,258.0 408.0,253.0 414.0,251.0 413.0,262.0 412.0,268.0 401.0,266.0 398.0,269.0 387.0,270.0 388.0,272.0 381.0,279.0 383.0,269.0 382.0,259.6" fill="none" stroke="#9aa8cc" stroke-opacity="0.32" stroke-width="0.7"/>
<polygon points="386.4,237.0 414.0,240.6 415.6,239.4 416.0,243.0 414.0,251.0 408.0,253.0 403.0,258.0 389.0,259.0 385.0,258.0" fill="none" stroke="#9aa8cc" stroke-opacity="0.32" stroke-width="0.7"/>
<polygon points="369.0,239.0 371.0,237.0 378.0,234.4 385.0,235.6 386.4,237.0 385.0,258.0 382.0,259.6 373.0,260.0 368.0,262.0 364.0,256.0 365.0,250.0 369.0,243.0" fill="none" stroke="#9aa8cc" stroke-opacity="0.32" stroke-width="0.7"/>
<polygon points="348.0,236.0 351.0,233.0 358.0,232.0 361.0,235.0 369.0,239.0 369.0,243.0 365.0,250.0 364.0,256.0 367.0,260.0 368.0,262.0 358.0,262.0 350.0,263.0 340.0,266.0 338.0,267.0 333.0,262.0 336.0,260.0 343.0,254.0 346.0,248.0 347.0,242.0" fill="none" stroke="#9aa8cc" stroke-opacity="0.32" stroke-width="0.7"/>
<polygon points="351.0,214.0 369.0,217.0 372.0,216.0 373.0,219.0 375.0,227.0 378.0,234.4 371.0,237.0 369.0,239.0 361.0,235.0 358.0,232.0 351.0,233.0 348.0,236.0 347.0,231.0 348.0,224.0" fill="none" stroke="#9aa8cc" stroke-opacity="0.32" stroke-width="0.7"/>
<polygon points="385.4,178.6 380.6,182.0 377.5,185.0 374.4,191.2 371.3,195.3 372.3,199.4 369.2,206.6 364.7,206.4 368.0,211.0 371.0,212.0 372.0,218.0 375.0,227.0 378.0,234.4 385.0,235.6 386.4,237.0 414.0,240.6 414.6,238.3 410.5,226.0 409.6,218.8 404.4,217.8 396.1,213.7 388.8,213.7 385.7,210.6 383.6,204.5 386.9,198.4 390.0,191.2 390.0,185.0 387.8,181.0" fill="none" stroke="#9aa8cc" stroke-opacity="0.32" stroke-width="0.7"/>
</g>
<text class="ser" x="274.8" y="12.5" font-size="11.9" font-weight="bold" text-anchor="middle" fill="#111" stroke="#111" stroke-width="0.2">1 – 5 ha</text>
<g transform="translate(150.50,-92.40) scale(0.617,0.622)" stroke-linejoin="miter" stroke-miterlimit="3">
<polygon points="427.0,336.0 439.0,335.0 443.0,337.0 450.0,341.0 451.0,345.0 453.0,352.0 457.0,359.0 453.0,362.0 456.0,366.0 451.0,370.0 456.0,379.0 456.0,388.0 452.0,397.0 447.0,398.0 440.0,396.0 428.0,396.0 422.0,402.0 416.0,412.0 400.0,408.0 390.0,405.0 383.0,396.0 381.0,392.0 374.0,383.0 377.0,375.0 378.0,366.0 383.0,369.0 385.0,367.0 386.0,367.0 392.0,358.0 397.0,348.0 400.0,342.0" fill="#fff" stroke="#c4c6cf" stroke-width="1.1"/>
<polygon points="348.0,302.0 352.0,301.0 359.0,300.5 374.0,306.0 380.0,305.6 394.0,304.4 395.0,308.0 384.0,312.0 380.0,316.0 379.0,323.0 376.0,330.0 378.0,336.0 376.0,340.0 378.0,343.0 384.0,344.0 386.0,348.0 386.0,354.0 384.0,362.0 385.0,367.0 383.0,369.0 378.0,366.0 377.0,375.0 374.0,383.0 381.0,392.0 383.0,396.0 370.0,395.0 352.0,392.0 348.0,392.0 340.0,387.0 330.0,380.0 325.0,377.0 323.0,368.0 320.0,360.0 316.0,350.0 314.0,343.0 312.0,338.0 320.0,343.0 325.0,343.0 330.0,337.0 337.0,329.0 339.0,320.0 341.0,310.0 347.0,303.0" fill="#0d1a3a" stroke="#0d1a3a" stroke-width="1.2"/>
<polygon points="396.0,303.0 403.0,307.0 410.0,310.0 417.0,314.0 432.0,322.0 434.0,325.0 427.0,336.0 400.0,342.0 397.0,348.0 392.0,358.0 386.0,367.0 385.0,367.0 384.0,362.0 386.0,354.0 386.0,348.0 384.0,344.0 378.0,343.0 376.0,340.0 378.0,336.0 376.0,330.0 379.0,323.0 380.0,316.0 384.0,312.0 395.0,308.0 394.0,304.4" fill="#c9d8f6" stroke="#c9d8f6" stroke-width="1.2"/>
<polygon points="453.0,293.0 452.0,300.0 450.0,310.0 450.0,320.0 450.0,332.0 462.0,337.0 461.0,339.0 450.0,341.0 443.0,337.0 439.0,335.0 427.0,336.0 434.0,325.0 432.0,322.0 417.0,314.0 410.0,310.0 411.0,306.0 415.0,301.0 429.0,296.0 436.0,295.0 444.0,293.0" fill="#86a7ea" stroke="#86a7ea" stroke-width="1.2"/>
<polygon points="381.0,279.0 388.0,272.0 387.0,270.0 398.0,269.0 401.0,266.0 412.0,268.0 413.0,262.0 417.0,262.0 430.0,269.0 438.0,276.0 439.0,279.0 452.0,292.0 453.0,293.0 444.0,293.0 436.0,295.0 429.0,296.0 415.0,301.0 411.0,306.0 410.0,310.0 403.0,307.0 396.0,303.0 391.0,290.0 389.0,283.0 387.0,280.0" fill="#86a7ea" stroke="#86a7ea" stroke-width="1.2"/>
<polygon points="333.0,262.0 338.0,267.0 330.0,275.0 328.0,278.0 332.0,284.0 331.0,288.0 322.0,294.0 320.0,300.0 312.0,305.0 310.0,310.0 310.0,316.0 308.0,323.0 307.0,329.0 308.0,335.0 306.0,335.0 301.0,329.0 300.0,324.0 296.0,317.0 291.0,314.0 293.0,306.0 297.0,300.0 302.0,290.0 306.0,283.0 312.0,277.0 318.0,273.0 323.0,269.0 329.0,265.0" fill="#c9d8f6" stroke="#c9d8f6" stroke-width="1.2"/>
<polygon points="338.0,267.0 340.0,266.0 350.0,263.0 358.0,262.0 361.0,263.0 360.0,272.0 361.0,277.6 367.0,279.6 364.0,283.0 359.0,290.0 358.0,297.0 359.0,300.5 352.0,301.0 348.0,302.0 350.0,299.0 351.0,293.0 347.0,292.4 341.0,295.0 333.0,301.0 329.0,306.0 326.0,312.0 323.0,317.0 315.0,323.0 310.0,327.0 309.0,335.0 308.0,335.0 307.0,329.0 308.0,323.0 310.0,316.0 310.0,310.0 312.0,305.0 320.0,300.0 322.0,294.0 331.0,288.0 332.0,284.0 328.0,278.0 330.0,275.0" fill="#4b7de0" stroke="#4b7de0" stroke-width="1.2"/>
<polygon points="351.0,293.0 347.0,292.4 341.0,295.0 333.0,301.0 329.0,306.0 326.0,312.0 323.0,317.0 315.0,323.0 310.0,327.0 309.0,335.0 312.0,338.0 320.0,343.0 325.0,343.0 330.0,337.0 337.0,329.0 339.0,320.0 341.0,310.0 347.0,303.0 350.0,299.0" fill="#4b7de0" stroke="#4b7de0" stroke-width="1.2"/>
<polygon points="367.0,279.6 381.0,279.0 387.0,280.0 389.0,283.0 391.0,290.0 396.0,303.0 394.0,304.4 380.0,305.6 374.0,306.0 359.0,300.5 358.0,297.0 359.0,290.0 364.0,283.0" fill="#1b3263" stroke="#1b3263" stroke-width="1.2"/>
<polygon points="361.0,263.0 368.0,262.0 373.0,260.0 382.0,259.6 383.0,269.0 381.0,279.0 367.0,279.6 361.0,277.6 360.0,272.0" fill="#3557a8" stroke="#3557a8" stroke-width="1.2"/>
<polygon points="385.0,258.0 389.0,259.0 403.0,258.0 408.0,253.0 414.0,251.0 413.0,262.0 412.0,268.0 401.0,266.0 398.0,269.0 387.0,270.0 388.0,272.0 381.0,279.0 383.0,269.0 382.0,259.6" fill="#86a7ea" stroke="#86a7ea" stroke-width="1.2"/>
<polygon points="386.4,237.0 414.0,240.6 415.6,239.4 416.0,243.0 414.0,251.0 408.0,253.0 403.0,258.0 389.0,259.0 385.0,258.0" fill="#3557a8" stroke="#3557a8" stroke-width="1.2"/>
<polygon points="369.0,239.0 371.0,237.0 378.0,234.4 385.0,235.6 386.4,237.0 385.0,258.0 382.0,259.6 373.0,260.0 368.0,262.0 364.0,256.0 365.0,250.0 369.0,243.0" fill="#86a7ea" stroke="#86a7ea" stroke-width="1.2"/>
<polygon points="348.0,236.0 351.0,233.0 358.0,232.0 361.0,235.0 369.0,239.0 369.0,243.0 365.0,250.0 364.0,256.0 367.0,260.0 368.0,262.0 358.0,262.0 350.0,263.0 340.0,266.0 338.0,267.0 333.0,262.0 336.0,260.0 343.0,254.0 346.0,248.0 347.0,242.0" fill="#0d1a3a" stroke="#0d1a3a" stroke-width="1.2"/>
<polygon points="351.0,214.0 369.0,217.0 372.0,216.0 373.0,219.0 375.0,227.0 378.0,234.4 371.0,237.0 369.0,239.0 361.0,235.0 358.0,232.0 351.0,233.0 348.0,236.0 347.0,231.0 348.0,224.0" fill="#c9d8f6" stroke="#c9d8f6" stroke-width="1.2"/>
<polygon points="385.4,178.6 380.6,182.0 377.5,185.0 374.4,191.2 371.3,195.3 372.3,199.4 369.2,206.6 364.7,206.4 368.0,211.0 371.0,212.0 372.0,218.0 375.0,227.0 378.0,234.4 385.0,235.6 386.4,237.0 414.0,240.6 414.6,238.3 410.5,226.0 409.6,218.8 404.4,217.8 396.1,213.7 388.8,213.7 385.7,210.6 383.6,204.5 386.9,198.4 390.0,191.2 390.0,185.0 387.8,181.0" fill="#1b3263" stroke="#1b3263" stroke-width="1.2"/>
<polygon points="348.0,302.0 352.0,301.0 359.0,300.5 374.0,306.0 380.0,305.6 394.0,304.4 395.0,308.0 384.0,312.0 380.0,316.0 379.0,323.0 376.0,330.0 378.0,336.0 376.0,340.0 378.0,343.0 384.0,344.0 386.0,348.0 386.0,354.0 384.0,362.0 385.0,367.0 383.0,369.0 378.0,366.0 377.0,375.0 374.0,383.0 381.0,392.0 383.0,396.0 370.0,395.0 352.0,392.0 348.0,392.0 340.0,387.0 330.0,380.0 325.0,377.0 323.0,368.0 320.0,360.0 316.0,350.0 314.0,343.0 312.0,338.0 320.0,343.0 325.0,343.0 330.0,337.0 337.0,329.0 339.0,320.0 341.0,310.0 347.0,303.0" fill="none" stroke="#9aa8cc" stroke-opacity="0.32" stroke-width="0.7"/>
<polygon points="396.0,303.0 403.0,307.0 410.0,310.0 417.0,314.0 432.0,322.0 434.0,325.0 427.0,336.0 400.0,342.0 397.0,348.0 392.0,358.0 386.0,367.0 385.0,367.0 384.0,362.0 386.0,354.0 386.0,348.0 384.0,344.0 378.0,343.0 376.0,340.0 378.0,336.0 376.0,330.0 379.0,323.0 380.0,316.0 384.0,312.0 395.0,308.0 394.0,304.4" fill="none" stroke="#9aa8cc" stroke-opacity="0.32" stroke-width="0.7"/>
<polygon points="453.0,293.0 452.0,300.0 450.0,310.0 450.0,320.0 450.0,332.0 462.0,337.0 461.0,339.0 450.0,341.0 443.0,337.0 439.0,335.0 427.0,336.0 434.0,325.0 432.0,322.0 417.0,314.0 410.0,310.0 411.0,306.0 415.0,301.0 429.0,296.0 436.0,295.0 444.0,293.0" fill="none" stroke="#9aa8cc" stroke-opacity="0.32" stroke-width="0.7"/>
<polygon points="381.0,279.0 388.0,272.0 387.0,270.0 398.0,269.0 401.0,266.0 412.0,268.0 413.0,262.0 417.0,262.0 430.0,269.0 438.0,276.0 439.0,279.0 452.0,292.0 453.0,293.0 444.0,293.0 436.0,295.0 429.0,296.0 415.0,301.0 411.0,306.0 410.0,310.0 403.0,307.0 396.0,303.0 391.0,290.0 389.0,283.0 387.0,280.0" fill="none" stroke="#9aa8cc" stroke-opacity="0.32" stroke-width="0.7"/>
<polygon points="333.0,262.0 338.0,267.0 330.0,275.0 328.0,278.0 332.0,284.0 331.0,288.0 322.0,294.0 320.0,300.0 312.0,305.0 310.0,310.0 310.0,316.0 308.0,323.0 307.0,329.0 308.0,335.0 306.0,335.0 301.0,329.0 300.0,324.0 296.0,317.0 291.0,314.0 293.0,306.0 297.0,300.0 302.0,290.0 306.0,283.0 312.0,277.0 318.0,273.0 323.0,269.0 329.0,265.0" fill="none" stroke="#9aa8cc" stroke-opacity="0.32" stroke-width="0.7"/>
<polygon points="338.0,267.0 340.0,266.0 350.0,263.0 358.0,262.0 361.0,263.0 360.0,272.0 361.0,277.6 367.0,279.6 364.0,283.0 359.0,290.0 358.0,297.0 359.0,300.5 352.0,301.0 348.0,302.0 350.0,299.0 351.0,293.0 347.0,292.4 341.0,295.0 333.0,301.0 329.0,306.0 326.0,312.0 323.0,317.0 315.0,323.0 310.0,327.0 309.0,335.0 308.0,335.0 307.0,329.0 308.0,323.0 310.0,316.0 310.0,310.0 312.0,305.0 320.0,300.0 322.0,294.0 331.0,288.0 332.0,284.0 328.0,278.0 330.0,275.0" fill="none" stroke="#9aa8cc" stroke-opacity="0.32" stroke-width="0.7"/>
<polygon points="351.0,293.0 347.0,292.4 341.0,295.0 333.0,301.0 329.0,306.0 326.0,312.0 323.0,317.0 315.0,323.0 310.0,327.0 309.0,335.0 312.0,338.0 320.0,343.0 325.0,343.0 330.0,337.0 337.0,329.0 339.0,320.0 341.0,310.0 347.0,303.0 350.0,299.0" fill="none" stroke="#9aa8cc" stroke-opacity="0.32" stroke-width="0.7"/>
<polygon points="367.0,279.6 381.0,279.0 387.0,280.0 389.0,283.0 391.0,290.0 396.0,303.0 394.0,304.4 380.0,305.6 374.0,306.0 359.0,300.5 358.0,297.0 359.0,290.0 364.0,283.0" fill="none" stroke="#9aa8cc" stroke-opacity="0.32" stroke-width="0.7"/>
<polygon points="361.0,263.0 368.0,262.0 373.0,260.0 382.0,259.6 383.0,269.0 381.0,279.0 367.0,279.6 361.0,277.6 360.0,272.0" fill="none" stroke="#9aa8cc" stroke-opacity="0.32" stroke-width="0.7"/>
<polygon points="385.0,258.0 389.0,259.0 403.0,258.0 408.0,253.0 414.0,251.0 413.0,262.0 412.0,268.0 401.0,266.0 398.0,269.0 387.0,270.0 388.0,272.0 381.0,279.0 383.0,269.0 382.0,259.6" fill="none" stroke="#9aa8cc" stroke-opacity="0.32" stroke-width="0.7"/>
<polygon points="386.4,237.0 414.0,240.6 415.6,239.4 416.0,243.0 414.0,251.0 408.0,253.0 403.0,258.0 389.0,259.0 385.0,258.0" fill="none" stroke="#9aa8cc" stroke-opacity="0.32" stroke-width="0.7"/>
<polygon points="369.0,239.0 371.0,237.0 378.0,234.4 385.0,235.6 386.4,237.0 385.0,258.0 382.0,259.6 373.0,260.0 368.0,262.0 364.0,256.0 365.0,250.0 369.0,243.0" fill="none" stroke="#9aa8cc" stroke-opacity="0.32" stroke-width="0.7"/>
<polygon points="348.0,236.0 351.0,233.0 358.0,232.0 361.0,235.0 369.0,239.0 369.0,243.0 365.0,250.0 364.0,256.0 367.0,260.0 368.0,262.0 358.0,262.0 350.0,263.0 340.0,266.0 338.0,267.0 333.0,262.0 336.0,260.0 343.0,254.0 346.0,248.0 347.0,242.0" fill="none" stroke="#9aa8cc" stroke-opacity="0.32" stroke-width="0.7"/>
<polygon points="351.0,214.0 369.0,217.0 372.0,216.0 373.0,219.0 375.0,227.0 378.0,234.4 371.0,237.0 369.0,239.0 361.0,235.0 358.0,232.0 351.0,233.0 348.0,236.0 347.0,231.0 348.0,224.0" fill="none" stroke="#9aa8cc" stroke-opacity="0.32" stroke-width="0.7"/>
<polygon points="385.4,178.6 380.6,182.0 377.5,185.0 374.4,191.2 371.3,195.3 372.3,199.4 369.2,206.6 364.7,206.4 368.0,211.0 371.0,212.0 372.0,218.0 375.0,227.0 378.0,234.4 385.0,235.6 386.4,237.0 414.0,240.6 414.6,238.3 410.5,226.0 409.6,218.8 404.4,217.8 396.1,213.7 388.8,213.7 385.7,210.6 383.6,204.5 386.9,198.4 390.0,191.2 390.0,185.0 387.8,181.0" fill="none" stroke="#9aa8cc" stroke-opacity="0.32" stroke-width="0.7"/>
</g>
<text class="ser" x="383.2" y="12.5" font-size="11.9" font-weight="bold" text-anchor="middle" fill="#111" stroke="#111" stroke-width="0.2">5 – 10 ha</text>
<g transform="translate(260.60,-92.40) scale(0.617,0.622)" stroke-linejoin="miter" stroke-miterlimit="3">
<polygon points="427.0,336.0 439.0,335.0 443.0,337.0 450.0,341.0 451.0,345.0 453.0,352.0 457.0,359.0 453.0,362.0 456.0,366.0 451.0,370.0 456.0,379.0 456.0,388.0 452.0,397.0 447.0,398.0 440.0,396.0 428.0,396.0 422.0,402.0 416.0,412.0 400.0,408.0 390.0,405.0 383.0,396.0 381.0,392.0 374.0,383.0 377.0,375.0 378.0,366.0 383.0,369.0 385.0,367.0 386.0,367.0 392.0,358.0 397.0,348.0 400.0,342.0" fill="#fff" stroke="#c4c6cf" stroke-width="1.1"/>
<polygon points="348.0,302.0 352.0,301.0 359.0,300.5 374.0,306.0 380.0,305.6 394.0,304.4 395.0,308.0 384.0,312.0 380.0,316.0 379.0,323.0 376.0,330.0 378.0,336.0 376.0,340.0 378.0,343.0 384.0,344.0 386.0,348.0 386.0,354.0 384.0,362.0 385.0,367.0 383.0,369.0 378.0,366.0 377.0,375.0 374.0,383.0 381.0,392.0 383.0,396.0 370.0,395.0 352.0,392.0 348.0,392.0 340.0,387.0 330.0,380.0 325.0,377.0 323.0,368.0 320.0,360.0 316.0,350.0 314.0,343.0 312.0,338.0 320.0,343.0 325.0,343.0 330.0,337.0 337.0,329.0 339.0,320.0 341.0,310.0 347.0,303.0" fill="#0d1a3a" stroke="#0d1a3a" stroke-width="1.2"/>
<polygon points="396.0,303.0 403.0,307.0 410.0,310.0 417.0,314.0 432.0,322.0 434.0,325.0 427.0,336.0 400.0,342.0 397.0,348.0 392.0,358.0 386.0,367.0 385.0,367.0 384.0,362.0 386.0,354.0 386.0,348.0 384.0,344.0 378.0,343.0 376.0,340.0 378.0,336.0 376.0,330.0 379.0,323.0 380.0,316.0 384.0,312.0 395.0,308.0 394.0,304.4" fill="#c9d8f6" stroke="#c9d8f6" stroke-width="1.2"/>
<polygon points="453.0,293.0 452.0,300.0 450.0,310.0 450.0,320.0 450.0,332.0 462.0,337.0 461.0,339.0 450.0,341.0 443.0,337.0 439.0,335.0 427.0,336.0 434.0,325.0 432.0,322.0 417.0,314.0 410.0,310.0 411.0,306.0 415.0,301.0 429.0,296.0 436.0,295.0 444.0,293.0" fill="#c9d8f6" stroke="#c9d8f6" stroke-width="1.2"/>
<polygon points="381.0,279.0 388.0,272.0 387.0,270.0 398.0,269.0 401.0,266.0 412.0,268.0 413.0,262.0 417.0,262.0 430.0,269.0 438.0,276.0 439.0,279.0 452.0,292.0 453.0,293.0 444.0,293.0 436.0,295.0 429.0,296.0 415.0,301.0 411.0,306.0 410.0,310.0 403.0,307.0 396.0,303.0 391.0,290.0 389.0,283.0 387.0,280.0" fill="#c9d8f6" stroke="#c9d8f6" stroke-width="1.2"/>
<polygon points="333.0,262.0 338.0,267.0 330.0,275.0 328.0,278.0 332.0,284.0 331.0,288.0 322.0,294.0 320.0,300.0 312.0,305.0 310.0,310.0 310.0,316.0 308.0,323.0 307.0,329.0 308.0,335.0 306.0,335.0 301.0,329.0 300.0,324.0 296.0,317.0 291.0,314.0 293.0,306.0 297.0,300.0 302.0,290.0 306.0,283.0 312.0,277.0 318.0,273.0 323.0,269.0 329.0,265.0" fill="#c9d8f6" stroke="#c9d8f6" stroke-width="1.2"/>
<polygon points="338.0,267.0 340.0,266.0 350.0,263.0 358.0,262.0 361.0,263.0 360.0,272.0 361.0,277.6 367.0,279.6 364.0,283.0 359.0,290.0 358.0,297.0 359.0,300.5 352.0,301.0 348.0,302.0 350.0,299.0 351.0,293.0 347.0,292.4 341.0,295.0 333.0,301.0 329.0,306.0 326.0,312.0 323.0,317.0 315.0,323.0 310.0,327.0 309.0,335.0 308.0,335.0 307.0,329.0 308.0,323.0 310.0,316.0 310.0,310.0 312.0,305.0 320.0,300.0 322.0,294.0 331.0,288.0 332.0,284.0 328.0,278.0 330.0,275.0" fill="#3557a8" stroke="#3557a8" stroke-width="1.2"/>
<polygon points="351.0,293.0 347.0,292.4 341.0,295.0 333.0,301.0 329.0,306.0 326.0,312.0 323.0,317.0 315.0,323.0 310.0,327.0 309.0,335.0 312.0,338.0 320.0,343.0 325.0,343.0 330.0,337.0 337.0,329.0 339.0,320.0 341.0,310.0 347.0,303.0 350.0,299.0" fill="#3557a8" stroke="#3557a8" stroke-width="1.2"/>
<polygon points="367.0,279.6 381.0,279.0 387.0,280.0 389.0,283.0 391.0,290.0 396.0,303.0 394.0,304.4 380.0,305.6 374.0,306.0 359.0,300.5 358.0,297.0 359.0,290.0 364.0,283.0" fill="#1b3263" stroke="#1b3263" stroke-width="1.2"/>
<polygon points="361.0,263.0 368.0,262.0 373.0,260.0 382.0,259.6 383.0,269.0 381.0,279.0 367.0,279.6 361.0,277.6 360.0,272.0" fill="#c9d8f6" stroke="#c9d8f6" stroke-width="1.2"/>
<polygon points="385.0,258.0 389.0,259.0 403.0,258.0 408.0,253.0 414.0,251.0 413.0,262.0 412.0,268.0 401.0,266.0 398.0,269.0 387.0,270.0 388.0,272.0 381.0,279.0 383.0,269.0 382.0,259.6" fill="#86a7ea" stroke="#86a7ea" stroke-width="1.2"/>
<polygon points="386.4,237.0 414.0,240.6 415.6,239.4 416.0,243.0 414.0,251.0 408.0,253.0 403.0,258.0 389.0,259.0 385.0,258.0" fill="#1b3263" stroke="#1b3263" stroke-width="1.2"/>
<polygon points="369.0,239.0 371.0,237.0 378.0,234.4 385.0,235.6 386.4,237.0 385.0,258.0 382.0,259.6 373.0,260.0 368.0,262.0 364.0,256.0 365.0,250.0 369.0,243.0" fill="#86a7ea" stroke="#86a7ea" stroke-width="1.2"/>
<polygon points="348.0,236.0 351.0,233.0 358.0,232.0 361.0,235.0 369.0,239.0 369.0,243.0 365.0,250.0 364.0,256.0 367.0,260.0 368.0,262.0 358.0,262.0 350.0,263.0 340.0,266.0 338.0,267.0 333.0,262.0 336.0,260.0 343.0,254.0 346.0,248.0 347.0,242.0" fill="#0d1a3a" stroke="#0d1a3a" stroke-width="1.2"/>
<polygon points="351.0,214.0 369.0,217.0 372.0,216.0 373.0,219.0 375.0,227.0 378.0,234.4 371.0,237.0 369.0,239.0 361.0,235.0 358.0,232.0 351.0,233.0 348.0,236.0 347.0,231.0 348.0,224.0" fill="#4b7de0" stroke="#4b7de0" stroke-width="1.2"/>
<polygon points="385.4,178.6 380.6,182.0 377.5,185.0 374.4,191.2 371.3,195.3 372.3,199.4 369.2,206.6 364.7,206.4 368.0,211.0 371.0,212.0 372.0,218.0 375.0,227.0 378.0,234.4 385.0,235.6 386.4,237.0 414.0,240.6 414.6,238.3 410.5,226.0 409.6,218.8 404.4,217.8 396.1,213.7 388.8,213.7 385.7,210.6 383.6,204.5 386.9,198.4 390.0,191.2 390.0,185.0 387.8,181.0" fill="#1b3263" stroke="#1b3263" stroke-width="1.2"/>
<polygon points="348.0,302.0 352.0,301.0 359.0,300.5 374.0,306.0 380.0,305.6 394.0,304.4 395.0,308.0 384.0,312.0 380.0,316.0 379.0,323.0 376.0,330.0 378.0,336.0 376.0,340.0 378.0,343.0 384.0,344.0 386.0,348.0 386.0,354.0 384.0,362.0 385.0,367.0 383.0,369.0 378.0,366.0 377.0,375.0 374.0,383.0 381.0,392.0 383.0,396.0 370.0,395.0 352.0,392.0 348.0,392.0 340.0,387.0 330.0,380.0 325.0,377.0 323.0,368.0 320.0,360.0 316.0,350.0 314.0,343.0 312.0,338.0 320.0,343.0 325.0,343.0 330.0,337.0 337.0,329.0 339.0,320.0 341.0,310.0 347.0,303.0" fill="none" stroke="#9aa8cc" stroke-opacity="0.32" stroke-width="0.7"/>
<polygon points="396.0,303.0 403.0,307.0 410.0,310.0 417.0,314.0 432.0,322.0 434.0,325.0 427.0,336.0 400.0,342.0 397.0,348.0 392.0,358.0 386.0,367.0 385.0,367.0 384.0,362.0 386.0,354.0 386.0,348.0 384.0,344.0 378.0,343.0 376.0,340.0 378.0,336.0 376.0,330.0 379.0,323.0 380.0,316.0 384.0,312.0 395.0,308.0 394.0,304.4" fill="none" stroke="#9aa8cc" stroke-opacity="0.32" stroke-width="0.7"/>
<polygon points="453.0,293.0 452.0,300.0 450.0,310.0 450.0,320.0 450.0,332.0 462.0,337.0 461.0,339.0 450.0,341.0 443.0,337.0 439.0,335.0 427.0,336.0 434.0,325.0 432.0,322.0 417.0,314.0 410.0,310.0 411.0,306.0 415.0,301.0 429.0,296.0 436.0,295.0 444.0,293.0" fill="none" stroke="#9aa8cc" stroke-opacity="0.32" stroke-width="0.7"/>
<polygon points="381.0,279.0 388.0,272.0 387.0,270.0 398.0,269.0 401.0,266.0 412.0,268.0 413.0,262.0 417.0,262.0 430.0,269.0 438.0,276.0 439.0,279.0 452.0,292.0 453.0,293.0 444.0,293.0 436.0,295.0 429.0,296.0 415.0,301.0 411.0,306.0 410.0,310.0 403.0,307.0 396.0,303.0 391.0,290.0 389.0,283.0 387.0,280.0" fill="none" stroke="#9aa8cc" stroke-opacity="0.32" stroke-width="0.7"/>
<polygon points="333.0,262.0 338.0,267.0 330.0,275.0 328.0,278.0 332.0,284.0 331.0,288.0 322.0,294.0 320.0,300.0 312.0,305.0 310.0,310.0 310.0,316.0 308.0,323.0 307.0,329.0 308.0,335.0 306.0,335.0 301.0,329.0 300.0,324.0 296.0,317.0 291.0,314.0 293.0,306.0 297.0,300.0 302.0,290.0 306.0,283.0 312.0,277.0 318.0,273.0 323.0,269.0 329.0,265.0" fill="none" stroke="#9aa8cc" stroke-opacity="0.32" stroke-width="0.7"/>
<polygon points="338.0,267.0 340.0,266.0 350.0,263.0 358.0,262.0 361.0,263.0 360.0,272.0 361.0,277.6 367.0,279.6 364.0,283.0 359.0,290.0 358.0,297.0 359.0,300.5 352.0,301.0 348.0,302.0 350.0,299.0 351.0,293.0 347.0,292.4 341.0,295.0 333.0,301.0 329.0,306.0 326.0,312.0 323.0,317.0 315.0,323.0 310.0,327.0 309.0,335.0 308.0,335.0 307.0,329.0 308.0,323.0 310.0,316.0 310.0,310.0 312.0,305.0 320.0,300.0 322.0,294.0 331.0,288.0 332.0,284.0 328.0,278.0 330.0,275.0" fill="none" stroke="#9aa8cc" stroke-opacity="0.32" stroke-width="0.7"/>
<polygon points="351.0,293.0 347.0,292.4 341.0,295.0 333.0,301.0 329.0,306.0 326.0,312.0 323.0,317.0 315.0,323.0 310.0,327.0 309.0,335.0 312.0,338.0 320.0,343.0 325.0,343.0 330.0,337.0 337.0,329.0 339.0,320.0 341.0,310.0 347.0,303.0 350.0,299.0" fill="none" stroke="#9aa8cc" stroke-opacity="0.32" stroke-width="0.7"/>
<polygon points="367.0,279.6 381.0,279.0 387.0,280.0 389.0,283.0 391.0,290.0 396.0,303.0 394.0,304.4 380.0,305.6 374.0,306.0 359.0,300.5 358.0,297.0 359.0,290.0 364.0,283.0" fill="none" stroke="#9aa8cc" stroke-opacity="0.32" stroke-width="0.7"/>
<polygon points="361.0,263.0 368.0,262.0 373.0,260.0 382.0,259.6 383.0,269.0 381.0,279.0 367.0,279.6 361.0,277.6 360.0,272.0" fill="none" stroke="#9aa8cc" stroke-opacity="0.32" stroke-width="0.7"/>
<polygon points="385.0,258.0 389.0,259.0 403.0,258.0 408.0,253.0 414.0,251.0 413.0,262.0 412.0,268.0 401.0,266.0 398.0,269.0 387.0,270.0 388.0,272.0 381.0,279.0 383.0,269.0 382.0,259.6" fill="none" stroke="#9aa8cc" stroke-opacity="0.32" stroke-width="0.7"/>
<polygon points="386.4,237.0 414.0,240.6 415.6,239.4 416.0,243.0 414.0,251.0 408.0,253.0 403.0,258.0 389.0,259.0 385.0,258.0" fill="none" stroke="#9aa8cc" stroke-opacity="0.32" stroke-width="0.7"/>
<polygon points="369.0,239.0 371.0,237.0 378.0,234.4 385.0,235.6 386.4,237.0 385.0,258.0 382.0,259.6 373.0,260.0 368.0,262.0 364.0,256.0 365.0,250.0 369.0,243.0" fill="none" stroke="#9aa8cc" stroke-opacity="0.32" stroke-width="0.7"/>
<polygon points="348.0,236.0 351.0,233.0 358.0,232.0 361.0,235.0 369.0,239.0 369.0,243.0 365.0,250.0 364.0,256.0 367.0,260.0 368.0,262.0 358.0,262.0 350.0,263.0 340.0,266.0 338.0,267.0 333.0,262.0 336.0,260.0 343.0,254.0 346.0,248.0 347.0,242.0" fill="none" stroke="#9aa8cc" stroke-opacity="0.32" stroke-width="0.7"/>
<polygon points="351.0,214.0 369.0,217.0 372.0,216.0 373.0,219.0 375.0,227.0 378.0,234.4 371.0,237.0 369.0,239.0 361.0,235.0 358.0,232.0 351.0,233.0 348.0,236.0 347.0,231.0 348.0,224.0" fill="none" stroke="#9aa8cc" stroke-opacity="0.32" stroke-width="0.7"/>
<polygon points="385.4,178.6 380.6,182.0 377.5,185.0 374.4,191.2 371.3,195.3 372.3,199.4 369.2,206.6 364.7,206.4 368.0,211.0 371.0,212.0 372.0,218.0 375.0,227.0 378.0,234.4 385.0,235.6 386.4,237.0 414.0,240.6 414.6,238.3 410.5,226.0 409.6,218.8 404.4,217.8 396.1,213.7 388.8,213.7 385.7,210.6 383.6,204.5 386.9,198.4 390.0,191.2 390.0,185.0 387.8,181.0" fill="none" stroke="#9aa8cc" stroke-opacity="0.32" stroke-width="0.7"/>
</g>
<text class="ser" x="492.5" y="12.5" font-size="11.9" font-weight="bold" text-anchor="middle" fill="#111" stroke="#111" stroke-width="0.2">10 – 40 ha</text>
<text class="ser" x="3.8" y="26.3" font-size="23.6" font-weight="bold" fill="#111" stroke="#111" stroke-width="0.3">(a)</text>
<text class="ser" x="28.9" y="189.3" font-size="23.6" font-weight="bold" fill="#111" stroke="#111" stroke-width="0.3">(b)</text>
<text class="ser" x="313" y="189.9" font-size="23.6" font-weight="bold" fill="#111" stroke="#111" stroke-width="0.3">(c)</text>
<g shape-rendering="crispEdges">
<rect x="52.60" y="197.00" width="27.52" height="13.60" fill="#009900"/>
<rect x="79.82" y="197.00" width="27.52" height="13.60" fill="#008c00"/>
<rect x="107.04" y="197.00" width="27.52" height="13.60" fill="#008a00"/>
<rect x="134.26" y="197.00" width="27.52" height="13.60" fill="#009000"/>
<rect x="161.48" y="197.00" width="27.52" height="13.60" fill="#005a00"/>
<rect x="52.60" y="210.29" width="27.52" height="13.60" fill="#008a00"/>
<rect x="79.82" y="210.29" width="27.52" height="13.60" fill="#008c00"/>
<rect x="107.04" y="210.29" width="27.52" height="13.60" fill="#00a800"/>
<rect x="134.26" y="210.29" width="27.52" height="13.60" fill="#009000"/>
<rect x="161.48" y="210.29" width="27.52" height="13.60" fill="#005c00"/>
<rect x="52.60" y="223.59" width="27.52" height="13.60" fill="#009a00"/>
<rect x="79.82" y="223.59" width="27.52" height="13.60" fill="#008e00"/>
<rect x="107.04" y="223.59" width="27.52" height="13.60" fill="#00aa00"/>
<rect x="134.26" y="223.59" width="27.52" height="13.60" fill="#006000"/>
<rect x="161.48" y="223.59" width="27.52" height="13.60" fill="#005e00"/>
<rect x="52.60" y="236.88" width="27.52" height="13.60" fill="#009400"/>
<rect x="79.82" y="236.88" width="27.52" height="13.60" fill="#007c00"/>
<rect x="107.04" y="236.88" width="27.52" height="13.60" fill="#008a00"/>
<rect x="134.26" y="236.88" width="27.52" height="13.60" fill="#003a00"/>
<rect x="161.48" y="236.88" width="27.52" height="13.60" fill="#002200"/>
<rect x="52.60" y="250.18" width="27.52" height="13.60" fill="#005800"/>
<rect x="79.82" y="250.18" width="27.52" height="13.60" fill="#006000"/>
<rect x="107.04" y="250.18" width="27.52" height="13.60" fill="#006c00"/>
<rect x="134.26" y="250.18" width="27.52" height="13.60" fill="#009400"/>
<rect x="161.48" y="250.18" width="27.52" height="13.60" fill="#004e00"/>
<rect x="52.60" y="263.48" width="27.52" height="13.60" fill="#000000"/>
<rect x="79.82" y="263.48" width="27.52" height="13.60" fill="#007600"/>
<rect x="107.04" y="263.48" width="27.52" height="13.60" fill="#008000"/>
<rect x="134.26" y="263.48" width="27.52" height="13.60" fill="#006800"/>
<rect x="161.48" y="263.48" width="27.52" height="13.60" fill="#007000"/>
<rect x="52.60" y="276.77" width="27.52" height="13.60" fill="#008c00"/>
<rect x="79.82" y="276.77" width="27.52" height="13.60" fill="#003400"/>
<rect x="107.04" y="276.77" width="27.52" height="13.60" fill="#002200"/>
<rect x="134.26" y="276.77" width="27.52" height="13.60" fill="#000800"/>
<rect x="161.48" y="276.77" width="27.52" height="13.60" fill="#006c00"/>
<rect x="52.60" y="290.06" width="27.52" height="13.60" fill="#003c00"/>
<rect x="79.82" y="290.06" width="27.52" height="13.60" fill="#001e00"/>
<rect x="107.04" y="290.06" width="27.52" height="13.60" fill="#000200"/>
<rect x="134.26" y="290.06" width="27.52" height="13.60" fill="#006400"/>
<rect x="161.48" y="290.06" width="27.52" height="13.60" fill="#006800"/>
<rect x="52.60" y="303.36" width="27.52" height="13.60" fill="#002800"/>
<rect x="79.82" y="303.36" width="27.52" height="13.60" fill="#002400"/>
<rect x="107.04" y="303.36" width="27.52" height="13.60" fill="#004c00"/>
<rect x="134.26" y="303.36" width="27.52" height="13.60" fill="#000a00"/>
<rect x="161.48" y="303.36" width="27.52" height="13.60" fill="#0c0000"/>
<rect x="52.60" y="316.65" width="27.52" height="13.60" fill="#000600"/>
<rect x="79.82" y="316.65" width="27.52" height="13.60" fill="#2a0000"/>
<rect x="107.04" y="316.65" width="27.52" height="13.60" fill="#3a0000"/>
<rect x="134.26" y="316.65" width="27.52" height="13.60" fill="#3c0000"/>
<rect x="161.48" y="316.65" width="27.52" height="13.60" fill="#1c0000"/>
<rect x="52.60" y="329.95" width="27.52" height="13.60" fill="#1c0000"/>
<rect x="79.82" y="329.95" width="27.52" height="13.60" fill="#001c00"/>
<rect x="107.04" y="329.95" width="27.52" height="13.60" fill="#700000"/>
<rect x="134.26" y="329.95" width="27.52" height="13.60" fill="#004400"/>
<rect x="161.48" y="329.95" width="27.52" height="13.60" fill="#001600"/>
<rect x="52.60" y="343.25" width="27.52" height="13.60" fill="#a00000"/>
<rect x="79.82" y="343.25" width="27.52" height="13.60" fill="#100000"/>
<rect x="107.04" y="343.25" width="27.52" height="13.60" fill="#005a00"/>
<rect x="134.26" y="343.25" width="27.52" height="13.60" fill="#006400"/>
<rect x="161.48" y="343.25" width="27.52" height="13.60" fill="#006a00"/>
<rect x="52.60" y="356.54" width="27.52" height="13.60" fill="#ff0000"/>
<rect x="79.82" y="356.54" width="27.52" height="13.60" fill="#005400"/>
<rect x="107.04" y="356.54" width="27.52" height="13.60" fill="#007800"/>
<rect x="134.26" y="356.54" width="27.52" height="13.60" fill="#2c0000"/>
<rect x="161.48" y="356.54" width="27.52" height="13.60" fill="#060000"/>
<rect x="52.60" y="369.84" width="27.52" height="13.60" fill="#2c0000"/>
<rect x="79.82" y="369.84" width="27.52" height="13.60" fill="#ff0000"/>
<rect x="107.04" y="369.84" width="27.52" height="13.60" fill="#a80000"/>
<rect x="134.26" y="369.84" width="27.52" height="13.60" fill="#080000"/>
<rect x="161.48" y="369.84" width="27.52" height="13.60" fill="#0a0000"/>
<rect x="52.60" y="383.13" width="27.52" height="13.60" fill="#004800"/>
<rect x="79.82" y="383.13" width="27.52" height="13.60" fill="#5a0000"/>
<rect x="107.04" y="383.13" width="27.52" height="13.60" fill="#ff0000"/>
<rect x="134.26" y="383.13" width="27.52" height="13.60" fill="#f00000"/>
<rect x="161.48" y="383.13" width="27.52" height="13.60" fill="#f40000"/>
</g>
<g stroke="#d8b8a0" stroke-opacity="0.45" stroke-width="0.5">
<line x1="52.6" y1="197.00" x2="188.70" y2="197.00"/>
<line x1="52.6" y1="210.29" x2="188.70" y2="210.29"/>
<line x1="52.6" y1="223.59" x2="188.70" y2="223.59"/>
<line x1="52.6" y1="236.88" x2="188.70" y2="236.88"/>
<line x1="52.6" y1="250.18" x2="188.70" y2="250.18"/>
<line x1="52.6" y1="263.48" x2="188.70" y2="263.48"/>
<line x1="52.6" y1="276.77" x2="188.70" y2="276.77"/>
<line x1="52.6" y1="290.06" x2="188.70" y2="290.06"/>
<line x1="52.6" y1="303.36" x2="188.70" y2="303.36"/>
<line x1="52.6" y1="316.65" x2="188.70" y2="316.65"/>
<line x1="52.6" y1="329.95" x2="188.70" y2="329.95"/>
<line x1="52.6" y1="343.25" x2="188.70" y2="343.25"/>
<line x1="52.6" y1="356.54" x2="188.70" y2="356.54"/>
<line x1="52.6" y1="369.84" x2="188.70" y2="369.84"/>
<line x1="52.6" y1="383.13" x2="188.70" y2="383.13"/>
<line x1="52.6" y1="396.43" x2="188.70" y2="396.43"/>
<line x1="52.60" y1="197.0" x2="52.60" y2="396.43"/>
<line x1="79.82" y1="197.0" x2="79.82" y2="396.43"/>
<line x1="107.04" y1="197.0" x2="107.04" y2="396.43"/>
<line x1="134.26" y1="197.0" x2="134.26" y2="396.43"/>
<line x1="161.48" y1="197.0" x2="161.48" y2="396.43"/>
<line x1="188.70" y1="197.0" x2="188.70" y2="396.43"/>
</g>
<text class="san" x="48.5" y="205.75" font-size="5.9" text-anchor="end" fill="#222" stroke="#222" stroke-width="0.22">CUAJ</text>
<text class="san" x="48.5" y="219.04" font-size="5.9" text-anchor="end" fill="#222" stroke="#222" stroke-width="0.22">XOC</text>
<text class="san" x="48.5" y="232.34" font-size="5.9" text-anchor="end" fill="#222" stroke="#222" stroke-width="0.22">TLAHUAC</text>
<text class="san" x="48.5" y="245.63" font-size="5.9" text-anchor="end" fill="#222" stroke="#222" stroke-width="0.22">MCON</text>
<text class="san" x="48.5" y="258.93" font-size="5.9" text-anchor="end" fill="#222" stroke="#222" stroke-width="0.22">AZC</text>
<text class="san" x="48.5" y="272.22" font-size="5.9" text-anchor="end" fill="#222" stroke="#222" stroke-width="0.22">IZTAC</text>
<text class="san" x="48.5" y="285.52" font-size="5.9" text-anchor="end" fill="#222" stroke="#222" stroke-width="0.22">BJ</text>
<text class="san" x="48.5" y="298.81" font-size="5.9" text-anchor="end" fill="#222" stroke="#222" stroke-width="0.22">CUAUH</text>
<text class="san" x="48.5" y="312.11" font-size="5.9" text-anchor="end" fill="#222" stroke="#222" stroke-width="0.22">VCAR</text>
<text class="san" x="48.5" y="325.40" font-size="5.9" text-anchor="end" fill="#222" stroke="#222" stroke-width="0.22">TLALPAN</text>
<text class="san" x="48.5" y="338.70" font-size="5.9" text-anchor="end" fill="#222" stroke="#222" stroke-width="0.22">AOB</text>
<text class="san" x="48.5" y="351.99" font-size="5.9" text-anchor="end" fill="#222" stroke="#222" stroke-width="0.22">IZTAP</text>
<text class="san" x="48.5" y="365.29" font-size="5.9" text-anchor="end" fill="#222" stroke="#222" stroke-width="0.22">GAM</text>
<text class="san" x="48.5" y="378.58" font-size="5.9" text-anchor="end" fill="#222" stroke="#222" stroke-width="0.22">COY</text>
<text class="san" x="48.5" y="391.88" font-size="5.9" text-anchor="end" fill="#222" stroke="#222" stroke-width="0.22">MHID</text>
<line x1="66.21" y1="396.43" x2="66.21" y2="397.93" stroke="#888" stroke-width="0.5"/>
<text class="san" transform="translate(68.41,404.43) rotate(-45)" font-size="6.05" font-weight="bold" text-anchor="end" fill="#222">Ridge</text>
<line x1="93.43" y1="396.43" x2="93.43" y2="397.93" stroke="#888" stroke-width="0.5"/>
<text class="san" transform="translate(95.63,404.43) rotate(-45)" font-size="6.05" font-weight="bold" text-anchor="end" fill="#222">1 ha</text>
<line x1="120.65" y1="396.43" x2="120.65" y2="397.93" stroke="#888" stroke-width="0.5"/>
<text class="san" transform="translate(122.85,404.43) rotate(-45)" font-size="6.05" font-weight="bold" text-anchor="end" fill="#222">1 – 5 ha</text>
<line x1="147.87" y1="396.43" x2="147.87" y2="397.93" stroke="#888" stroke-width="0.5"/>
<text class="san" transform="translate(150.07,404.43) rotate(-45)" font-size="6.05" font-weight="bold" text-anchor="end" fill="#222">5 – 10 ha</text>
<line x1="175.09" y1="396.43" x2="175.09" y2="397.93" stroke="#888" stroke-width="0.5"/>
<text class="san" transform="translate(177.29,404.43) rotate(-45)" font-size="6.05" font-weight="bold" text-anchor="end" fill="#222">10 – 40 ha</text>
<rect x="190.7" y="199.40" width="5.50" height="114.85" fill="#fcf0ea" stroke="#555" stroke-width="0.6"/>
<rect x="190.7" y="319.05" width="5.50" height="21.79" fill="#fcae91" stroke="#555" stroke-width="0.6"/>
<rect x="190.7" y="345.64" width="5.50" height="8.50" fill="#fb6a4a" stroke="#555" stroke-width="0.6"/>
<rect x="190.7" y="358.94" width="5.50" height="8.50" fill="#f44336" stroke="#555" stroke-width="0.6"/>
<rect x="190.7" y="372.24" width="5.50" height="8.50" fill="#e8171c" stroke="#555" stroke-width="0.6"/>
<rect x="190.7" y="385.53" width="5.50" height="8.50" fill="#a50f15" stroke="#555" stroke-width="0.6"/>
<g stroke="#333" stroke-width="0.7" fill="none" stroke-linecap="square">
<line x1="199.00" y1="203.65" x2="205.70" y2="203.65"/>
<line x1="199.00" y1="216.94" x2="205.70" y2="216.94"/>
<line x1="199.00" y1="230.24" x2="205.70" y2="230.24"/>
<line x1="199.00" y1="243.53" x2="205.70" y2="243.53"/>
<line x1="199.00" y1="256.83" x2="205.70" y2="256.83"/>
<line x1="199.00" y1="270.12" x2="205.70" y2="270.12"/>
<line x1="199.00" y1="283.42" x2="205.70" y2="283.42"/>
<line x1="199.00" y1="296.71" x2="205.70" y2="296.71"/>
<line x1="199.00" y1="310.01" x2="205.70" y2="310.01"/>
<line x1="205.70" y1="203.65" x2="205.70" y2="310.01"/>
<line x1="205.70" y1="283.42" x2="213.00" y2="283.42"/>
<line x1="213.00" y1="283.42" x2="213.00" y2="336.60"/>
<line x1="199.00" y1="323.30" x2="213.00" y2="323.30"/>
<line x1="199.00" y1="336.60" x2="213.00" y2="336.60"/>
<line x1="213.00" y1="312.40" x2="220.00" y2="312.40"/>
<line x1="220.00" y1="312.40" x2="220.00" y2="349.89"/>
<line x1="199.00" y1="349.89" x2="220.00" y2="349.89"/>
<line x1="220.00" y1="325.60" x2="226.00" y2="325.60"/>
<line x1="226.00" y1="325.60" x2="226.00" y2="363.19"/>
<line x1="199.00" y1="363.19" x2="226.00" y2="363.19"/>
<line x1="226.00" y1="339.00" x2="248.60" y2="339.00"/>
<line x1="248.60" y1="339.00" x2="248.60" y2="376.48"/>
<line x1="199.00" y1="376.48" x2="248.60" y2="376.48"/>
<line x1="248.60" y1="354.50" x2="280.50" y2="354.50"/>
<line x1="280.50" y1="354.50" x2="280.50" y2="389.78"/>
<line x1="199.00" y1="389.78" x2="280.50" y2="389.78"/>
</g>
<defs><linearGradient id="zg" x1="0" x2="1" y1="0" y2="0">
<stop offset="0" stop-color="#00d000"/><stop offset="0.25" stop-color="#000000"/><stop offset="0.85" stop-color="#ff0000"/><stop offset="1" stop-color="#ff0000"/></linearGradient></defs>
<rect x="208.3" y="198" width="63.3" height="13" fill="url(#zg)"/>
<text class="san" x="240" y="184" font-size="6" font-weight="bold" text-anchor="middle" fill="#111">Z score</text>
<text class="san" x="208.30" y="193" font-size="5.5" text-anchor="middle" fill="#222">-1</text>
<line x1="208.30" y1="211" x2="208.30" y2="214" stroke="#333" stroke-width="0.6"/>
<text class="san" x="224.12" y="193" font-size="5.5" text-anchor="middle" fill="#222">0</text>
<line x1="224.12" y1="211" x2="224.12" y2="214" stroke="#333" stroke-width="0.6"/>
<text class="san" x="239.95" y="193" font-size="5.5" text-anchor="middle" fill="#222">1</text>
<line x1="239.95" y1="211" x2="239.95" y2="214" stroke="#333" stroke-width="0.6"/>
<text class="san" x="255.78" y="193" font-size="5.5" text-anchor="middle" fill="#222">2</text>
<line x1="255.78" y1="211" x2="255.78" y2="214" stroke="#333" stroke-width="0.6"/>
<text class="san" x="271.60" y="193" font-size="5.5" text-anchor="middle" fill="#222">3</text>
<line x1="271.60" y1="211" x2="271.60" y2="214" stroke="#333" stroke-width="0.6"/>
<line x1="208.3" y1="211.2" x2="271.6" y2="211.2" stroke="#333" stroke-width="0.5"/>
<g stroke-linejoin="round">
<polygon points="427.0,336.0 439.0,335.0 443.0,337.0 450.0,341.0 451.0,345.0 453.0,352.0 457.0,359.0 453.0,362.0 456.0,366.0 451.0,370.0 456.0,379.0 456.0,388.0 452.0,397.0 447.0,398.0 440.0,396.0 428.0,396.0 422.0,402.0 416.0,412.0 400.0,408.0 390.0,405.0 383.0,396.0 381.0,392.0 374.0,383.0 377.0,375.0 378.0,366.0 383.0,369.0 385.0,367.0 386.0,367.0 392.0,358.0 397.0,348.0 400.0,342.0" fill="#fff" stroke="#777" stroke-width="0.6"/>
<polygon points="348.0,302.0 352.0,301.0 359.0,300.5 374.0,306.0 380.0,305.6 394.0,304.4 395.0,308.0 384.0,312.0 380.0,316.0 379.0,323.0 376.0,330.0 378.0,336.0 376.0,340.0 378.0,343.0 384.0,344.0 386.0,348.0 386.0,354.0 384.0,362.0 385.0,367.0 383.0,369.0 378.0,366.0 377.0,375.0 374.0,383.0 381.0,392.0 383.0,396.0 370.0,395.0 352.0,392.0 348.0,392.0 340.0,387.0 330.0,380.0 325.0,377.0 323.0,368.0 320.0,360.0 316.0,350.0 314.0,343.0 312.0,338.0 320.0,343.0 325.0,343.0 330.0,337.0 337.0,329.0 339.0,320.0 341.0,310.0 347.0,303.0" fill="#fcae91" stroke="#4a2a20" stroke-width="0.5"/>
<polygon points="396.0,303.0 403.0,307.0 410.0,310.0 417.0,314.0 432.0,322.0 434.0,325.0 427.0,336.0 400.0,342.0 397.0,348.0 392.0,358.0 386.0,367.0 385.0,367.0 384.0,362.0 386.0,354.0 386.0,348.0 384.0,344.0 378.0,343.0 376.0,340.0 378.0,336.0 376.0,330.0 379.0,323.0 380.0,316.0 384.0,312.0 395.0,308.0 394.0,304.4" fill="#fcf0ea" stroke="#4a2a20" stroke-width="0.5"/>
<polygon points="453.0,293.0 452.0,300.0 450.0,310.0 450.0,320.0 450.0,332.0 462.0,337.0 461.0,339.0 450.0,341.0 443.0,337.0 439.0,335.0 427.0,336.0 434.0,325.0 432.0,322.0 417.0,314.0 410.0,310.0 411.0,306.0 415.0,301.0 429.0,296.0 436.0,295.0 444.0,293.0" fill="#fcf0ea" stroke="#4a2a20" stroke-width="0.5"/>
<polygon points="381.0,279.0 388.0,272.0 387.0,270.0 398.0,269.0 401.0,266.0 412.0,268.0 413.0,262.0 417.0,262.0 430.0,269.0 438.0,276.0 439.0,279.0 452.0,292.0 453.0,293.0 444.0,293.0 436.0,295.0 429.0,296.0 415.0,301.0 411.0,306.0 410.0,310.0 403.0,307.0 396.0,303.0 391.0,290.0 389.0,283.0 387.0,280.0" fill="#fb7050" stroke="#4a2a20" stroke-width="0.5"/>
<polygon points="333.0,262.0 338.0,267.0 330.0,275.0 328.0,278.0 332.0,284.0 331.0,288.0 322.0,294.0 320.0,300.0 312.0,305.0 310.0,310.0 310.0,316.0 308.0,323.0 307.0,329.0 308.0,335.0 306.0,335.0 301.0,329.0 300.0,324.0 296.0,317.0 291.0,314.0 293.0,306.0 297.0,300.0 302.0,290.0 306.0,283.0 312.0,277.0 318.0,273.0 323.0,269.0 329.0,265.0" fill="#fcf0ea" stroke="#4a2a20" stroke-width="0.5"/>
<polygon points="338.0,267.0 340.0,266.0 350.0,263.0 358.0,262.0 361.0,263.0 360.0,272.0 361.0,277.6 367.0,279.6 364.0,283.0 359.0,290.0 358.0,297.0 359.0,300.5 352.0,301.0 348.0,302.0 350.0,299.0 351.0,293.0 347.0,292.4 341.0,295.0 333.0,301.0 329.0,306.0 326.0,312.0 323.0,317.0 315.0,323.0 310.0,327.0 309.0,335.0 308.0,335.0 307.0,329.0 308.0,323.0 310.0,316.0 310.0,310.0 312.0,305.0 320.0,300.0 322.0,294.0 331.0,288.0 332.0,284.0 328.0,278.0 330.0,275.0" fill="#fcae91" stroke="#4a2a20" stroke-width="0.5"/>
<polygon points="351.0,293.0 347.0,292.4 341.0,295.0 333.0,301.0 329.0,306.0 326.0,312.0 323.0,317.0 315.0,323.0 310.0,327.0 309.0,335.0 312.0,338.0 320.0,343.0 325.0,343.0 330.0,337.0 337.0,329.0 339.0,320.0 341.0,310.0 347.0,303.0 350.0,299.0" fill="#fcf0ea" stroke="#4a2a20" stroke-width="0.5"/>
<polygon points="367.0,279.6 381.0,279.0 387.0,280.0 389.0,283.0 391.0,290.0 396.0,303.0 394.0,304.4 380.0,305.6 374.0,306.0 359.0,300.5 358.0,297.0 359.0,290.0 364.0,283.0" fill="#e3141c" stroke="#4a2a20" stroke-width="0.5"/>
<polygon points="361.0,263.0 368.0,262.0 373.0,260.0 382.0,259.6 383.0,269.0 381.0,279.0 367.0,279.6 361.0,277.6 360.0,272.0" fill="#fcf0ea" stroke="#4a2a20" stroke-width="0.5"/>
<polygon points="385.0,258.0 389.0,259.0 403.0,258.0 408.0,253.0 414.0,251.0 413.0,262.0 412.0,268.0 401.0,266.0 398.0,269.0 387.0,270.0 388.0,272.0 381.0,279.0 383.0,269.0 382.0,259.6" fill="#fcf0ea" stroke="#4a2a20" stroke-width="0.5"/>
<polygon points="386.4,237.0 414.0,240.6 415.6,239.4 416.0,243.0 414.0,251.0 408.0,253.0 403.0,258.0 389.0,259.0 385.0,258.0" fill="#fcf0ea" stroke="#4a2a20" stroke-width="0.5"/>
<polygon points="369.0,239.0 371.0,237.0 378.0,234.4 385.0,235.6 386.4,237.0 385.0,258.0 382.0,259.6 373.0,260.0 368.0,262.0 364.0,256.0 365.0,250.0 369.0,243.0" fill="#fcf0ea" stroke="#4a2a20" stroke-width="0.5"/>
<polygon points="348.0,236.0 351.0,233.0 358.0,232.0 361.0,235.0 369.0,239.0 369.0,243.0 365.0,250.0 364.0,256.0 367.0,260.0 368.0,262.0 358.0,262.0 350.0,263.0 340.0,266.0 338.0,267.0 333.0,262.0 336.0,260.0 343.0,254.0 346.0,248.0 347.0,242.0" fill="#a50f15" stroke="#4a2a20" stroke-width="0.5"/>
<polygon points="351.0,214.0 369.0,217.0 372.0,216.0 373.0,219.0 375.0,227.0 378.0,234.4 371.0,237.0 369.0,239.0 361.0,235.0 358.0,232.0 351.0,233.0 348.0,236.0 347.0,231.0 348.0,224.0" fill="#fcf0ea" stroke="#4a2a20" stroke-width="0.5"/>
<polygon points="386.4,180.4 383.0,181.6 379.4,184.0 377.0,190.0 378.0,193.0 374.4,199.4 372.0,203.0 370.0,207.6 365.0,208.0 368.0,211.0 371.0,212.0 372.0,218.0 375.0,227.0 378.0,234.4 385.0,235.6 386.4,237.0 414.0,240.6 415.6,239.4 409.0,225.0 407.0,219.4 398.0,216.0 388.0,214.0 385.0,213.0 383.0,208.0 386.0,201.0 389.0,194.0 388.0,187.0" fill="#fb2a22" stroke="#4a2a20" stroke-width="0.5"/>
</g>
<text class="ser" x="390.3" y="226.5" font-size="5.6" text-anchor="middle" fill="#400">GAM</text>
<text class="ser" x="360.3" y="225.7" font-size="5.6" text-anchor="middle" fill="#222">AZC</text>
<text class="ser" x="356" y="247" font-size="5.6" text-anchor="middle" fill="#fde">MHID</text>
<text class="ser" x="374.5" y="253" font-size="5.6" text-anchor="middle" fill="#222">CUAUH</text>
<text class="ser" x="398.2" y="249.4" font-size="5.6" text-anchor="middle" fill="#222">VCAR</text>
<text class="ser" x="394.6" y="264" font-size="5.6" text-anchor="middle" fill="#222">IZTAC</text>
<text class="ser" x="371.6" y="271.5" font-size="5.6" text-anchor="middle" fill="#222">BJ</text>
<text class="ser" x="345" y="280.3" font-size="5.6" text-anchor="middle" fill="#222">AOB</text>
<text class="ser" x="378.3" y="293.5" font-size="5.6" text-anchor="middle" fill="#fdd">COY</text>
<text class="ser" x="413.5" y="282.2" font-size="5.6" text-anchor="middle" fill="#fee">IZTAP</text>
<text class="ser" x="314" y="288" font-size="5.6" text-anchor="middle" fill="#222">CUAJ</text>
<text class="ser" x="324.5" y="328.5" font-size="5.6" text-anchor="middle" fill="#222">MCON</text>
<text class="ser" x="355" y="344" font-size="5.6" text-anchor="middle" fill="#222">TLALPAN</text>
<text class="ser" x="402" y="324" font-size="5.6" text-anchor="middle" fill="#222">XOC</text>
<text class="ser" x="431.5" y="307.5" font-size="5.6" text-anchor="middle" fill="#222">TLAHUAC</text>
<text class="ser" x="505" y="181.3" font-size="6.1" text-anchor="middle" fill="#111">Percentile of the</text>
<text class="ser" x="505" y="189.3" font-size="6.1" text-anchor="middle" fill="#111">number of UGSs</text>
<line x1="484" y1="192" x2="530" y2="192" stroke="#4a4a4a" stroke-width="1"/>
<rect x="489" y="195.00" width="11" height="8.2" fill="#c9d8f6"/>
<text class="ser" x="501.3" y="201.30" font-size="6.1" fill="#111">&lt;16.6th</text>
<rect x="489" y="202.95" width="11" height="8.2" fill="#86a7ea"/>
<text class="ser" x="501.3" y="209.25" font-size="6.1" fill="#111">16.7 – 33.2th</text>
<rect x="489" y="210.90" width="11" height="8.2" fill="#4b7de0"/>
<text class="ser" x="501.3" y="217.20" font-size="6.1" fill="#111">33.3 – 49.8th</text>
<rect x="489" y="218.85" width="11" height="8.2" fill="#3557a8"/>
<text class="ser" x="501.3" y="225.15" font-size="6.1" fill="#111">49.9 – 66.4th</text>
<rect x="489" y="226.80" width="11" height="8.2" fill="#1b3263"/>
<text class="ser" x="501.3" y="233.10" font-size="6.1" fill="#111">66.5 – 83.0th</text>
<rect x="489" y="234.75" width="11" height="8.2" fill="#0d1a3a"/>
<text class="ser" x="501.3" y="241.05" font-size="6.1" fill="#111">&gt;83.0th</text>
<rect x="489" y="195" width="11" height="47.9" fill="none" stroke="#667" stroke-width="0.4"/>
</svg></body></html>
